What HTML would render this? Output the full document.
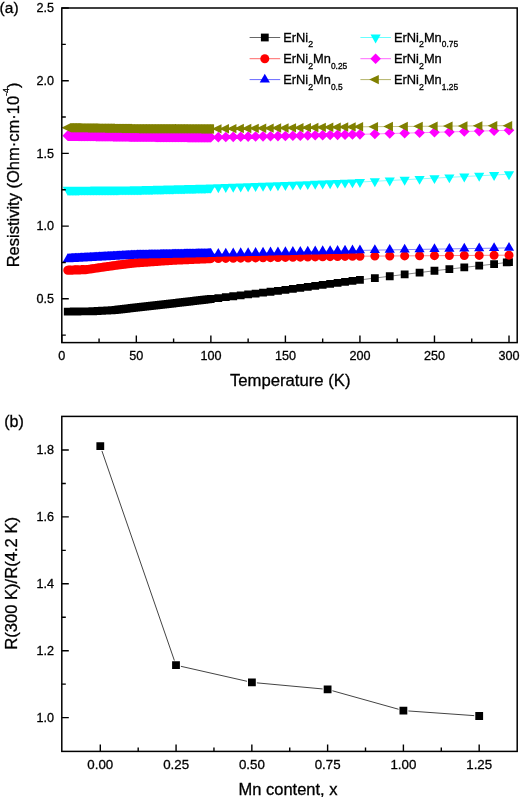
<!DOCTYPE html>
<html><head><meta charset="utf-8"><title>Resistivity figure</title>
<style>html,body{margin:0;padding:0;background:#fff}svg{display:block}</style></head>
<body>
<svg width="520" height="797" viewBox="0 0 520 797" font-family="Liberation Sans, Arial, Helvetica, sans-serif" fill="#000" stroke="none">
<rect width="520" height="797" fill="#fff"/>
<polyline points="210.87,298.95 218.32,298.04 225.78,297.14 233.23,296.24 240.68,295.34 248.14,294.44 255.59,293.54 263.04,292.64 270.50,291.73 277.95,290.83 285.40,289.93 292.86,288.93 300.31,287.92 307.77,286.92 315.22,285.92 322.67,284.91 330.13,283.91 337.58,282.91 345.03,281.90 352.49,280.90 359.94,279.90 374.85,278.07 389.75,276.23 404.66,274.40 419.57,272.57 434.47,270.74 449.38,269.07 464.29,267.39 479.20,265.72 494.10,264.05 506.77,262.44 509.01,262.16" fill="none" stroke="#000000" stroke-width="0.8" opacity="0.6"/>
<path d="M63.86 307.70h7.8v7.8h-7.8zM64.61 307.69h7.8v7.8h-7.8zM65.35 307.68h7.8v7.8h-7.8zM66.10 307.67h7.8v7.8h-7.8zM66.84 307.66h7.8v7.8h-7.8zM67.59 307.65h7.8v7.8h-7.8zM68.33 307.64h7.8v7.8h-7.8zM69.08 307.63h7.8v7.8h-7.8zM69.83 307.62h7.8v7.8h-7.8zM70.57 307.61h7.8v7.8h-7.8zM71.32 307.60h7.8v7.8h-7.8zM72.06 307.60h7.8v7.8h-7.8zM72.81 307.59h7.8v7.8h-7.8zM73.55 307.58h7.8v7.8h-7.8zM74.30 307.57h7.8v7.8h-7.8zM75.04 307.56h7.8v7.8h-7.8zM75.79 307.55h7.8v7.8h-7.8zM76.53 307.54h7.8v7.8h-7.8zM77.28 307.53h7.8v7.8h-7.8zM78.02 307.52h7.8v7.8h-7.8zM78.77 307.51h7.8v7.8h-7.8zM79.52 307.50h7.8v7.8h-7.8zM80.26 307.50h7.8v7.8h-7.8zM81.01 307.49h7.8v7.8h-7.8zM81.75 307.48h7.8v7.8h-7.8zM82.50 307.47h7.8v7.8h-7.8zM83.24 307.46h7.8v7.8h-7.8zM83.99 307.45h7.8v7.8h-7.8zM84.73 307.44h7.8v7.8h-7.8zM85.48 307.43h7.8v7.8h-7.8zM86.22 307.42h7.8v7.8h-7.8zM86.97 307.41h7.8v7.8h-7.8zM87.71 307.40h7.8v7.8h-7.8zM88.46 307.37h7.8v7.8h-7.8zM89.20 307.33h7.8v7.8h-7.8zM89.95 307.29h7.8v7.8h-7.8zM90.70 307.25h7.8v7.8h-7.8zM91.44 307.21h7.8v7.8h-7.8zM92.19 307.17h7.8v7.8h-7.8zM92.93 307.13h7.8v7.8h-7.8zM93.68 307.09h7.8v7.8h-7.8zM94.42 307.06h7.8v7.8h-7.8zM95.17 307.02h7.8v7.8h-7.8zM95.91 306.98h7.8v7.8h-7.8zM96.66 306.94h7.8v7.8h-7.8zM97.40 306.90h7.8v7.8h-7.8zM98.15 306.86h7.8v7.8h-7.8zM98.89 306.82h7.8v7.8h-7.8zM99.64 306.78h7.8v7.8h-7.8zM100.38 306.75h7.8v7.8h-7.8zM101.13 306.71h7.8v7.8h-7.8zM101.88 306.67h7.8v7.8h-7.8zM102.62 306.63h7.8v7.8h-7.8zM103.37 306.59h7.8v7.8h-7.8zM104.11 306.55h7.8v7.8h-7.8zM104.86 306.51h7.8v7.8h-7.8zM105.60 306.47h7.8v7.8h-7.8zM106.35 306.44h7.8v7.8h-7.8zM107.09 306.40h7.8v7.8h-7.8zM107.84 306.36h7.8v7.8h-7.8zM108.58 306.32h7.8v7.8h-7.8zM109.33 306.28h7.8v7.8h-7.8zM110.07 306.24h7.8v7.8h-7.8zM110.82 306.15h7.8v7.8h-7.8zM111.57 306.06h7.8v7.8h-7.8zM112.31 305.98h7.8v7.8h-7.8zM113.06 305.89h7.8v7.8h-7.8zM113.80 305.80h7.8v7.8h-7.8zM114.55 305.71h7.8v7.8h-7.8zM115.29 305.62h7.8v7.8h-7.8zM116.04 305.53h7.8v7.8h-7.8zM116.78 305.45h7.8v7.8h-7.8zM117.53 305.36h7.8v7.8h-7.8zM118.27 305.27h7.8v7.8h-7.8zM119.02 305.18h7.8v7.8h-7.8zM119.76 305.09h7.8v7.8h-7.8zM120.51 305.01h7.8v7.8h-7.8zM121.25 304.92h7.8v7.8h-7.8zM122.00 304.83h7.8v7.8h-7.8zM122.75 304.74h7.8v7.8h-7.8zM123.49 304.65h7.8v7.8h-7.8zM124.24 304.56h7.8v7.8h-7.8zM124.98 304.48h7.8v7.8h-7.8zM125.73 304.39h7.8v7.8h-7.8zM126.47 304.30h7.8v7.8h-7.8zM127.22 304.21h7.8v7.8h-7.8zM127.96 304.12h7.8v7.8h-7.8zM128.71 304.03h7.8v7.8h-7.8zM129.45 303.95h7.8v7.8h-7.8zM130.20 303.86h7.8v7.8h-7.8zM130.94 303.77h7.8v7.8h-7.8zM131.69 303.69h7.8v7.8h-7.8zM132.43 303.60h7.8v7.8h-7.8zM133.18 303.52h7.8v7.8h-7.8zM133.93 303.43h7.8v7.8h-7.8zM134.67 303.35h7.8v7.8h-7.8zM135.42 303.27h7.8v7.8h-7.8zM136.16 303.18h7.8v7.8h-7.8zM136.91 303.10h7.8v7.8h-7.8zM137.65 303.01h7.8v7.8h-7.8zM138.40 302.93h7.8v7.8h-7.8zM139.14 302.85h7.8v7.8h-7.8zM139.89 302.76h7.8v7.8h-7.8zM140.63 302.68h7.8v7.8h-7.8zM141.38 302.60h7.8v7.8h-7.8zM142.12 302.51h7.8v7.8h-7.8zM142.87 302.43h7.8v7.8h-7.8zM143.62 302.34h7.8v7.8h-7.8zM144.36 302.26h7.8v7.8h-7.8zM145.11 302.18h7.8v7.8h-7.8zM145.85 302.09h7.8v7.8h-7.8zM146.60 302.01h7.8v7.8h-7.8zM147.34 301.92h7.8v7.8h-7.8zM148.09 301.84h7.8v7.8h-7.8zM148.83 301.76h7.8v7.8h-7.8zM149.58 301.67h7.8v7.8h-7.8zM150.32 301.59h7.8v7.8h-7.8zM151.07 301.50h7.8v7.8h-7.8zM151.81 301.42h7.8v7.8h-7.8zM152.56 301.34h7.8v7.8h-7.8zM153.30 301.25h7.8v7.8h-7.8zM154.05 301.17h7.8v7.8h-7.8zM154.80 301.09h7.8v7.8h-7.8zM155.54 301.00h7.8v7.8h-7.8zM156.29 300.92h7.8v7.8h-7.8zM157.03 300.83h7.8v7.8h-7.8zM157.78 300.75h7.8v7.8h-7.8zM158.52 300.67h7.8v7.8h-7.8zM159.27 300.58h7.8v7.8h-7.8zM160.01 300.50h7.8v7.8h-7.8zM160.76 300.41h7.8v7.8h-7.8zM161.50 300.33h7.8v7.8h-7.8zM162.25 300.25h7.8v7.8h-7.8zM162.99 300.16h7.8v7.8h-7.8zM163.74 300.08h7.8v7.8h-7.8zM164.49 299.99h7.8v7.8h-7.8zM165.23 299.91h7.8v7.8h-7.8zM165.98 299.83h7.8v7.8h-7.8zM166.72 299.74h7.8v7.8h-7.8zM167.47 299.66h7.8v7.8h-7.8zM168.21 299.58h7.8v7.8h-7.8zM168.96 299.49h7.8v7.8h-7.8zM169.70 299.41h7.8v7.8h-7.8zM170.45 299.32h7.8v7.8h-7.8zM171.19 299.23h7.8v7.8h-7.8zM171.94 299.15h7.8v7.8h-7.8zM172.68 299.06h7.8v7.8h-7.8zM173.43 298.97h7.8v7.8h-7.8zM174.17 298.88h7.8v7.8h-7.8zM174.92 298.80h7.8v7.8h-7.8zM175.67 298.71h7.8v7.8h-7.8zM176.41 298.62h7.8v7.8h-7.8zM177.16 298.54h7.8v7.8h-7.8zM177.90 298.45h7.8v7.8h-7.8zM178.65 298.36h7.8v7.8h-7.8zM179.39 298.27h7.8v7.8h-7.8zM180.14 298.19h7.8v7.8h-7.8zM180.88 298.10h7.8v7.8h-7.8zM181.63 298.01h7.8v7.8h-7.8zM182.37 297.92h7.8v7.8h-7.8zM183.12 297.84h7.8v7.8h-7.8zM183.86 297.75h7.8v7.8h-7.8zM184.61 297.66h7.8v7.8h-7.8zM185.35 297.58h7.8v7.8h-7.8zM186.10 297.49h7.8v7.8h-7.8zM186.85 297.40h7.8v7.8h-7.8zM187.59 297.31h7.8v7.8h-7.8zM188.34 297.23h7.8v7.8h-7.8zM189.08 297.14h7.8v7.8h-7.8zM189.83 297.05h7.8v7.8h-7.8zM190.57 296.96h7.8v7.8h-7.8zM191.32 296.88h7.8v7.8h-7.8zM192.06 296.79h7.8v7.8h-7.8zM192.81 296.70h7.8v7.8h-7.8zM193.55 296.62h7.8v7.8h-7.8zM194.30 296.53h7.8v7.8h-7.8zM195.04 296.44h7.8v7.8h-7.8zM195.79 296.35h7.8v7.8h-7.8zM196.54 296.27h7.8v7.8h-7.8zM197.28 296.18h7.8v7.8h-7.8zM198.03 296.09h7.8v7.8h-7.8zM198.77 296.01h7.8v7.8h-7.8zM199.52 295.92h7.8v7.8h-7.8zM200.26 295.83h7.8v7.8h-7.8zM201.01 295.74h7.8v7.8h-7.8zM201.75 295.66h7.8v7.8h-7.8zM202.50 295.57h7.8v7.8h-7.8zM203.24 295.48h7.8v7.8h-7.8zM203.99 295.39h7.8v7.8h-7.8zM204.73 295.31h7.8v7.8h-7.8zM205.48 295.22h7.8v7.8h-7.8zM206.22 295.13h7.8v7.8h-7.8zM206.97 295.05h7.8v7.8h-7.8zM214.42 294.14h7.8v7.8h-7.8zM221.88 293.24h7.8v7.8h-7.8zM229.33 292.34h7.8v7.8h-7.8zM236.78 291.44h7.8v7.8h-7.8zM244.24 290.54h7.8v7.8h-7.8zM251.69 289.64h7.8v7.8h-7.8zM259.14 288.74h7.8v7.8h-7.8zM266.60 287.83h7.8v7.8h-7.8zM274.05 286.93h7.8v7.8h-7.8zM281.50 286.03h7.8v7.8h-7.8zM288.96 285.03h7.8v7.8h-7.8zM296.41 284.02h7.8v7.8h-7.8zM303.87 283.02h7.8v7.8h-7.8zM311.32 282.02h7.8v7.8h-7.8zM318.77 281.01h7.8v7.8h-7.8zM326.23 280.01h7.8v7.8h-7.8zM333.68 279.01h7.8v7.8h-7.8zM341.13 278.00h7.8v7.8h-7.8zM348.59 277.00h7.8v7.8h-7.8zM356.04 276.00h7.8v7.8h-7.8zM370.95 274.17h7.8v7.8h-7.8zM385.85 272.33h7.8v7.8h-7.8zM400.76 270.50h7.8v7.8h-7.8zM415.67 268.67h7.8v7.8h-7.8zM430.57 266.84h7.8v7.8h-7.8zM445.48 265.17h7.8v7.8h-7.8zM460.39 263.49h7.8v7.8h-7.8zM475.30 261.82h7.8v7.8h-7.8zM490.20 260.15h7.8v7.8h-7.8zM502.87 258.54h7.8v7.8h-7.8zM505.11 258.26h7.8v7.8h-7.8z" fill="#000000"/>
<polyline points="210.87,258.67 218.32,258.55 225.78,258.42 233.23,258.30 240.68,258.18 248.14,258.05 255.59,257.93 263.04,257.80 270.50,257.68 277.95,257.56 285.40,257.43 292.86,257.31 300.31,257.19 307.77,257.06 315.22,256.94 322.67,256.82 330.13,256.69 337.58,256.57 345.03,256.44 352.49,256.32 359.94,256.20 374.85,256.10 389.75,255.99 404.66,255.89 419.57,255.79 434.47,255.69 449.38,255.59 464.29,255.49 479.20,255.38 494.10,255.28 509.01,255.18" fill="none" stroke="#ff0000" stroke-width="0.8" opacity="0.6"/>
<path d="M63.26 270.30a4.5 4.5 0 1 0 9.0 0a4.5 4.5 0 1 0 -9.0 0zM64.01 270.28a4.5 4.5 0 1 0 9.0 0a4.5 4.5 0 1 0 -9.0 0zM64.75 270.25a4.5 4.5 0 1 0 9.0 0a4.5 4.5 0 1 0 -9.0 0zM65.50 270.23a4.5 4.5 0 1 0 9.0 0a4.5 4.5 0 1 0 -9.0 0zM66.24 270.20a4.5 4.5 0 1 0 9.0 0a4.5 4.5 0 1 0 -9.0 0zM66.99 270.18a4.5 4.5 0 1 0 9.0 0a4.5 4.5 0 1 0 -9.0 0zM67.73 270.16a4.5 4.5 0 1 0 9.0 0a4.5 4.5 0 1 0 -9.0 0zM68.48 270.13a4.5 4.5 0 1 0 9.0 0a4.5 4.5 0 1 0 -9.0 0zM69.23 270.11a4.5 4.5 0 1 0 9.0 0a4.5 4.5 0 1 0 -9.0 0zM69.97 270.08a4.5 4.5 0 1 0 9.0 0a4.5 4.5 0 1 0 -9.0 0zM70.72 270.06a4.5 4.5 0 1 0 9.0 0a4.5 4.5 0 1 0 -9.0 0zM71.46 270.04a4.5 4.5 0 1 0 9.0 0a4.5 4.5 0 1 0 -9.0 0zM72.21 270.01a4.5 4.5 0 1 0 9.0 0a4.5 4.5 0 1 0 -9.0 0zM72.95 269.99a4.5 4.5 0 1 0 9.0 0a4.5 4.5 0 1 0 -9.0 0zM73.70 269.96a4.5 4.5 0 1 0 9.0 0a4.5 4.5 0 1 0 -9.0 0zM74.44 269.94a4.5 4.5 0 1 0 9.0 0a4.5 4.5 0 1 0 -9.0 0zM75.19 269.91a4.5 4.5 0 1 0 9.0 0a4.5 4.5 0 1 0 -9.0 0zM75.93 269.89a4.5 4.5 0 1 0 9.0 0a4.5 4.5 0 1 0 -9.0 0zM76.68 269.87a4.5 4.5 0 1 0 9.0 0a4.5 4.5 0 1 0 -9.0 0zM77.42 269.84a4.5 4.5 0 1 0 9.0 0a4.5 4.5 0 1 0 -9.0 0zM78.17 269.82a4.5 4.5 0 1 0 9.0 0a4.5 4.5 0 1 0 -9.0 0zM78.92 269.79a4.5 4.5 0 1 0 9.0 0a4.5 4.5 0 1 0 -9.0 0zM79.66 269.77a4.5 4.5 0 1 0 9.0 0a4.5 4.5 0 1 0 -9.0 0zM80.41 269.74a4.5 4.5 0 1 0 9.0 0a4.5 4.5 0 1 0 -9.0 0zM81.15 269.72a4.5 4.5 0 1 0 9.0 0a4.5 4.5 0 1 0 -9.0 0zM81.90 269.61a4.5 4.5 0 1 0 9.0 0a4.5 4.5 0 1 0 -9.0 0zM82.64 269.50a4.5 4.5 0 1 0 9.0 0a4.5 4.5 0 1 0 -9.0 0zM83.39 269.39a4.5 4.5 0 1 0 9.0 0a4.5 4.5 0 1 0 -9.0 0zM84.13 269.28a4.5 4.5 0 1 0 9.0 0a4.5 4.5 0 1 0 -9.0 0zM84.88 269.17a4.5 4.5 0 1 0 9.0 0a4.5 4.5 0 1 0 -9.0 0zM85.62 269.07a4.5 4.5 0 1 0 9.0 0a4.5 4.5 0 1 0 -9.0 0zM86.37 268.96a4.5 4.5 0 1 0 9.0 0a4.5 4.5 0 1 0 -9.0 0zM87.11 268.85a4.5 4.5 0 1 0 9.0 0a4.5 4.5 0 1 0 -9.0 0zM87.86 268.74a4.5 4.5 0 1 0 9.0 0a4.5 4.5 0 1 0 -9.0 0zM88.60 268.63a4.5 4.5 0 1 0 9.0 0a4.5 4.5 0 1 0 -9.0 0zM89.35 268.52a4.5 4.5 0 1 0 9.0 0a4.5 4.5 0 1 0 -9.0 0zM90.10 268.41a4.5 4.5 0 1 0 9.0 0a4.5 4.5 0 1 0 -9.0 0zM90.84 268.30a4.5 4.5 0 1 0 9.0 0a4.5 4.5 0 1 0 -9.0 0zM91.59 268.19a4.5 4.5 0 1 0 9.0 0a4.5 4.5 0 1 0 -9.0 0zM92.33 268.08a4.5 4.5 0 1 0 9.0 0a4.5 4.5 0 1 0 -9.0 0zM93.08 267.98a4.5 4.5 0 1 0 9.0 0a4.5 4.5 0 1 0 -9.0 0zM93.82 267.87a4.5 4.5 0 1 0 9.0 0a4.5 4.5 0 1 0 -9.0 0zM94.57 267.76a4.5 4.5 0 1 0 9.0 0a4.5 4.5 0 1 0 -9.0 0zM95.31 267.65a4.5 4.5 0 1 0 9.0 0a4.5 4.5 0 1 0 -9.0 0zM96.06 267.54a4.5 4.5 0 1 0 9.0 0a4.5 4.5 0 1 0 -9.0 0zM96.80 267.43a4.5 4.5 0 1 0 9.0 0a4.5 4.5 0 1 0 -9.0 0zM97.55 267.33a4.5 4.5 0 1 0 9.0 0a4.5 4.5 0 1 0 -9.0 0zM98.29 267.22a4.5 4.5 0 1 0 9.0 0a4.5 4.5 0 1 0 -9.0 0zM99.04 267.12a4.5 4.5 0 1 0 9.0 0a4.5 4.5 0 1 0 -9.0 0zM99.78 267.01a4.5 4.5 0 1 0 9.0 0a4.5 4.5 0 1 0 -9.0 0zM100.53 266.90a4.5 4.5 0 1 0 9.0 0a4.5 4.5 0 1 0 -9.0 0zM101.28 266.80a4.5 4.5 0 1 0 9.0 0a4.5 4.5 0 1 0 -9.0 0zM102.02 266.69a4.5 4.5 0 1 0 9.0 0a4.5 4.5 0 1 0 -9.0 0zM102.77 266.59a4.5 4.5 0 1 0 9.0 0a4.5 4.5 0 1 0 -9.0 0zM103.51 266.48a4.5 4.5 0 1 0 9.0 0a4.5 4.5 0 1 0 -9.0 0zM104.26 266.38a4.5 4.5 0 1 0 9.0 0a4.5 4.5 0 1 0 -9.0 0zM105.00 266.27a4.5 4.5 0 1 0 9.0 0a4.5 4.5 0 1 0 -9.0 0zM105.75 266.16a4.5 4.5 0 1 0 9.0 0a4.5 4.5 0 1 0 -9.0 0zM106.49 266.06a4.5 4.5 0 1 0 9.0 0a4.5 4.5 0 1 0 -9.0 0zM107.24 265.95a4.5 4.5 0 1 0 9.0 0a4.5 4.5 0 1 0 -9.0 0zM107.98 265.85a4.5 4.5 0 1 0 9.0 0a4.5 4.5 0 1 0 -9.0 0zM108.73 265.74a4.5 4.5 0 1 0 9.0 0a4.5 4.5 0 1 0 -9.0 0zM109.47 265.64a4.5 4.5 0 1 0 9.0 0a4.5 4.5 0 1 0 -9.0 0zM110.22 265.53a4.5 4.5 0 1 0 9.0 0a4.5 4.5 0 1 0 -9.0 0zM110.97 265.42a4.5 4.5 0 1 0 9.0 0a4.5 4.5 0 1 0 -9.0 0zM111.71 265.32a4.5 4.5 0 1 0 9.0 0a4.5 4.5 0 1 0 -9.0 0zM112.46 265.21a4.5 4.5 0 1 0 9.0 0a4.5 4.5 0 1 0 -9.0 0zM113.20 265.12a4.5 4.5 0 1 0 9.0 0a4.5 4.5 0 1 0 -9.0 0zM113.95 265.03a4.5 4.5 0 1 0 9.0 0a4.5 4.5 0 1 0 -9.0 0zM114.69 264.94a4.5 4.5 0 1 0 9.0 0a4.5 4.5 0 1 0 -9.0 0zM115.44 264.85a4.5 4.5 0 1 0 9.0 0a4.5 4.5 0 1 0 -9.0 0zM116.18 264.76a4.5 4.5 0 1 0 9.0 0a4.5 4.5 0 1 0 -9.0 0zM116.93 264.67a4.5 4.5 0 1 0 9.0 0a4.5 4.5 0 1 0 -9.0 0zM117.67 264.58a4.5 4.5 0 1 0 9.0 0a4.5 4.5 0 1 0 -9.0 0zM118.42 264.49a4.5 4.5 0 1 0 9.0 0a4.5 4.5 0 1 0 -9.0 0zM119.16 264.39a4.5 4.5 0 1 0 9.0 0a4.5 4.5 0 1 0 -9.0 0zM119.91 264.30a4.5 4.5 0 1 0 9.0 0a4.5 4.5 0 1 0 -9.0 0zM120.65 264.21a4.5 4.5 0 1 0 9.0 0a4.5 4.5 0 1 0 -9.0 0zM121.40 264.12a4.5 4.5 0 1 0 9.0 0a4.5 4.5 0 1 0 -9.0 0zM122.15 264.03a4.5 4.5 0 1 0 9.0 0a4.5 4.5 0 1 0 -9.0 0zM122.89 263.94a4.5 4.5 0 1 0 9.0 0a4.5 4.5 0 1 0 -9.0 0zM123.64 263.85a4.5 4.5 0 1 0 9.0 0a4.5 4.5 0 1 0 -9.0 0zM124.38 263.76a4.5 4.5 0 1 0 9.0 0a4.5 4.5 0 1 0 -9.0 0zM125.13 263.67a4.5 4.5 0 1 0 9.0 0a4.5 4.5 0 1 0 -9.0 0zM125.87 263.58a4.5 4.5 0 1 0 9.0 0a4.5 4.5 0 1 0 -9.0 0zM126.62 263.49a4.5 4.5 0 1 0 9.0 0a4.5 4.5 0 1 0 -9.0 0zM127.36 263.40a4.5 4.5 0 1 0 9.0 0a4.5 4.5 0 1 0 -9.0 0zM128.11 263.30a4.5 4.5 0 1 0 9.0 0a4.5 4.5 0 1 0 -9.0 0zM128.85 263.21a4.5 4.5 0 1 0 9.0 0a4.5 4.5 0 1 0 -9.0 0zM129.60 263.12a4.5 4.5 0 1 0 9.0 0a4.5 4.5 0 1 0 -9.0 0zM130.34 263.03a4.5 4.5 0 1 0 9.0 0a4.5 4.5 0 1 0 -9.0 0zM131.09 262.98a4.5 4.5 0 1 0 9.0 0a4.5 4.5 0 1 0 -9.0 0zM131.83 262.93a4.5 4.5 0 1 0 9.0 0a4.5 4.5 0 1 0 -9.0 0zM132.58 262.87a4.5 4.5 0 1 0 9.0 0a4.5 4.5 0 1 0 -9.0 0zM133.33 262.82a4.5 4.5 0 1 0 9.0 0a4.5 4.5 0 1 0 -9.0 0zM134.07 262.77a4.5 4.5 0 1 0 9.0 0a4.5 4.5 0 1 0 -9.0 0zM134.82 262.71a4.5 4.5 0 1 0 9.0 0a4.5 4.5 0 1 0 -9.0 0zM135.56 262.66a4.5 4.5 0 1 0 9.0 0a4.5 4.5 0 1 0 -9.0 0zM136.31 262.61a4.5 4.5 0 1 0 9.0 0a4.5 4.5 0 1 0 -9.0 0zM137.05 262.55a4.5 4.5 0 1 0 9.0 0a4.5 4.5 0 1 0 -9.0 0zM137.80 262.50a4.5 4.5 0 1 0 9.0 0a4.5 4.5 0 1 0 -9.0 0zM138.54 262.45a4.5 4.5 0 1 0 9.0 0a4.5 4.5 0 1 0 -9.0 0zM139.29 262.39a4.5 4.5 0 1 0 9.0 0a4.5 4.5 0 1 0 -9.0 0zM140.03 262.34a4.5 4.5 0 1 0 9.0 0a4.5 4.5 0 1 0 -9.0 0zM140.78 262.29a4.5 4.5 0 1 0 9.0 0a4.5 4.5 0 1 0 -9.0 0zM141.52 262.23a4.5 4.5 0 1 0 9.0 0a4.5 4.5 0 1 0 -9.0 0zM142.27 262.18a4.5 4.5 0 1 0 9.0 0a4.5 4.5 0 1 0 -9.0 0zM143.02 262.13a4.5 4.5 0 1 0 9.0 0a4.5 4.5 0 1 0 -9.0 0zM143.76 262.08a4.5 4.5 0 1 0 9.0 0a4.5 4.5 0 1 0 -9.0 0zM144.51 262.02a4.5 4.5 0 1 0 9.0 0a4.5 4.5 0 1 0 -9.0 0zM145.25 261.97a4.5 4.5 0 1 0 9.0 0a4.5 4.5 0 1 0 -9.0 0zM146.00 261.92a4.5 4.5 0 1 0 9.0 0a4.5 4.5 0 1 0 -9.0 0zM146.74 261.86a4.5 4.5 0 1 0 9.0 0a4.5 4.5 0 1 0 -9.0 0zM147.49 261.81a4.5 4.5 0 1 0 9.0 0a4.5 4.5 0 1 0 -9.0 0zM148.23 261.76a4.5 4.5 0 1 0 9.0 0a4.5 4.5 0 1 0 -9.0 0zM148.98 261.70a4.5 4.5 0 1 0 9.0 0a4.5 4.5 0 1 0 -9.0 0zM149.72 261.65a4.5 4.5 0 1 0 9.0 0a4.5 4.5 0 1 0 -9.0 0zM150.47 261.60a4.5 4.5 0 1 0 9.0 0a4.5 4.5 0 1 0 -9.0 0zM151.21 261.54a4.5 4.5 0 1 0 9.0 0a4.5 4.5 0 1 0 -9.0 0zM151.96 261.49a4.5 4.5 0 1 0 9.0 0a4.5 4.5 0 1 0 -9.0 0zM152.70 261.44a4.5 4.5 0 1 0 9.0 0a4.5 4.5 0 1 0 -9.0 0zM153.45 261.38a4.5 4.5 0 1 0 9.0 0a4.5 4.5 0 1 0 -9.0 0zM154.20 261.33a4.5 4.5 0 1 0 9.0 0a4.5 4.5 0 1 0 -9.0 0zM154.94 261.28a4.5 4.5 0 1 0 9.0 0a4.5 4.5 0 1 0 -9.0 0zM155.69 261.23a4.5 4.5 0 1 0 9.0 0a4.5 4.5 0 1 0 -9.0 0zM156.43 261.17a4.5 4.5 0 1 0 9.0 0a4.5 4.5 0 1 0 -9.0 0zM157.18 261.12a4.5 4.5 0 1 0 9.0 0a4.5 4.5 0 1 0 -9.0 0zM157.92 261.07a4.5 4.5 0 1 0 9.0 0a4.5 4.5 0 1 0 -9.0 0zM158.67 261.01a4.5 4.5 0 1 0 9.0 0a4.5 4.5 0 1 0 -9.0 0zM159.41 260.96a4.5 4.5 0 1 0 9.0 0a4.5 4.5 0 1 0 -9.0 0zM160.16 260.91a4.5 4.5 0 1 0 9.0 0a4.5 4.5 0 1 0 -9.0 0zM160.90 260.85a4.5 4.5 0 1 0 9.0 0a4.5 4.5 0 1 0 -9.0 0zM161.65 260.80a4.5 4.5 0 1 0 9.0 0a4.5 4.5 0 1 0 -9.0 0zM162.39 260.75a4.5 4.5 0 1 0 9.0 0a4.5 4.5 0 1 0 -9.0 0zM163.14 260.69a4.5 4.5 0 1 0 9.0 0a4.5 4.5 0 1 0 -9.0 0zM163.89 260.64a4.5 4.5 0 1 0 9.0 0a4.5 4.5 0 1 0 -9.0 0zM164.63 260.59a4.5 4.5 0 1 0 9.0 0a4.5 4.5 0 1 0 -9.0 0zM165.38 260.53a4.5 4.5 0 1 0 9.0 0a4.5 4.5 0 1 0 -9.0 0zM166.12 260.48a4.5 4.5 0 1 0 9.0 0a4.5 4.5 0 1 0 -9.0 0zM166.87 260.43a4.5 4.5 0 1 0 9.0 0a4.5 4.5 0 1 0 -9.0 0zM167.61 260.38a4.5 4.5 0 1 0 9.0 0a4.5 4.5 0 1 0 -9.0 0zM168.36 260.32a4.5 4.5 0 1 0 9.0 0a4.5 4.5 0 1 0 -9.0 0zM169.10 260.27a4.5 4.5 0 1 0 9.0 0a4.5 4.5 0 1 0 -9.0 0zM169.85 260.24a4.5 4.5 0 1 0 9.0 0a4.5 4.5 0 1 0 -9.0 0zM170.59 260.21a4.5 4.5 0 1 0 9.0 0a4.5 4.5 0 1 0 -9.0 0zM171.34 260.17a4.5 4.5 0 1 0 9.0 0a4.5 4.5 0 1 0 -9.0 0zM172.08 260.14a4.5 4.5 0 1 0 9.0 0a4.5 4.5 0 1 0 -9.0 0zM172.83 260.11a4.5 4.5 0 1 0 9.0 0a4.5 4.5 0 1 0 -9.0 0zM173.57 260.08a4.5 4.5 0 1 0 9.0 0a4.5 4.5 0 1 0 -9.0 0zM174.32 260.05a4.5 4.5 0 1 0 9.0 0a4.5 4.5 0 1 0 -9.0 0zM175.07 260.01a4.5 4.5 0 1 0 9.0 0a4.5 4.5 0 1 0 -9.0 0zM175.81 259.98a4.5 4.5 0 1 0 9.0 0a4.5 4.5 0 1 0 -9.0 0zM176.56 259.95a4.5 4.5 0 1 0 9.0 0a4.5 4.5 0 1 0 -9.0 0zM177.30 259.92a4.5 4.5 0 1 0 9.0 0a4.5 4.5 0 1 0 -9.0 0zM178.05 259.89a4.5 4.5 0 1 0 9.0 0a4.5 4.5 0 1 0 -9.0 0zM178.79 259.85a4.5 4.5 0 1 0 9.0 0a4.5 4.5 0 1 0 -9.0 0zM179.54 259.82a4.5 4.5 0 1 0 9.0 0a4.5 4.5 0 1 0 -9.0 0zM180.28 259.79a4.5 4.5 0 1 0 9.0 0a4.5 4.5 0 1 0 -9.0 0zM181.03 259.76a4.5 4.5 0 1 0 9.0 0a4.5 4.5 0 1 0 -9.0 0zM181.77 259.73a4.5 4.5 0 1 0 9.0 0a4.5 4.5 0 1 0 -9.0 0zM182.52 259.69a4.5 4.5 0 1 0 9.0 0a4.5 4.5 0 1 0 -9.0 0zM183.26 259.66a4.5 4.5 0 1 0 9.0 0a4.5 4.5 0 1 0 -9.0 0zM184.01 259.63a4.5 4.5 0 1 0 9.0 0a4.5 4.5 0 1 0 -9.0 0zM184.75 259.60a4.5 4.5 0 1 0 9.0 0a4.5 4.5 0 1 0 -9.0 0zM185.50 259.57a4.5 4.5 0 1 0 9.0 0a4.5 4.5 0 1 0 -9.0 0zM186.25 259.53a4.5 4.5 0 1 0 9.0 0a4.5 4.5 0 1 0 -9.0 0zM186.99 259.50a4.5 4.5 0 1 0 9.0 0a4.5 4.5 0 1 0 -9.0 0zM187.74 259.47a4.5 4.5 0 1 0 9.0 0a4.5 4.5 0 1 0 -9.0 0zM188.48 259.44a4.5 4.5 0 1 0 9.0 0a4.5 4.5 0 1 0 -9.0 0zM189.23 259.41a4.5 4.5 0 1 0 9.0 0a4.5 4.5 0 1 0 -9.0 0zM189.97 259.37a4.5 4.5 0 1 0 9.0 0a4.5 4.5 0 1 0 -9.0 0zM190.72 259.34a4.5 4.5 0 1 0 9.0 0a4.5 4.5 0 1 0 -9.0 0zM191.46 259.31a4.5 4.5 0 1 0 9.0 0a4.5 4.5 0 1 0 -9.0 0zM192.21 259.28a4.5 4.5 0 1 0 9.0 0a4.5 4.5 0 1 0 -9.0 0zM192.95 259.25a4.5 4.5 0 1 0 9.0 0a4.5 4.5 0 1 0 -9.0 0zM193.70 259.21a4.5 4.5 0 1 0 9.0 0a4.5 4.5 0 1 0 -9.0 0zM194.44 259.18a4.5 4.5 0 1 0 9.0 0a4.5 4.5 0 1 0 -9.0 0zM195.19 259.15a4.5 4.5 0 1 0 9.0 0a4.5 4.5 0 1 0 -9.0 0zM195.94 259.12a4.5 4.5 0 1 0 9.0 0a4.5 4.5 0 1 0 -9.0 0zM196.68 259.09a4.5 4.5 0 1 0 9.0 0a4.5 4.5 0 1 0 -9.0 0zM197.43 259.05a4.5 4.5 0 1 0 9.0 0a4.5 4.5 0 1 0 -9.0 0zM198.17 259.02a4.5 4.5 0 1 0 9.0 0a4.5 4.5 0 1 0 -9.0 0zM198.92 258.99a4.5 4.5 0 1 0 9.0 0a4.5 4.5 0 1 0 -9.0 0zM199.66 258.96a4.5 4.5 0 1 0 9.0 0a4.5 4.5 0 1 0 -9.0 0zM200.41 258.93a4.5 4.5 0 1 0 9.0 0a4.5 4.5 0 1 0 -9.0 0zM201.15 258.89a4.5 4.5 0 1 0 9.0 0a4.5 4.5 0 1 0 -9.0 0zM201.90 258.86a4.5 4.5 0 1 0 9.0 0a4.5 4.5 0 1 0 -9.0 0zM202.64 258.83a4.5 4.5 0 1 0 9.0 0a4.5 4.5 0 1 0 -9.0 0zM203.39 258.80a4.5 4.5 0 1 0 9.0 0a4.5 4.5 0 1 0 -9.0 0zM204.13 258.77a4.5 4.5 0 1 0 9.0 0a4.5 4.5 0 1 0 -9.0 0zM204.88 258.73a4.5 4.5 0 1 0 9.0 0a4.5 4.5 0 1 0 -9.0 0zM205.62 258.70a4.5 4.5 0 1 0 9.0 0a4.5 4.5 0 1 0 -9.0 0zM206.37 258.67a4.5 4.5 0 1 0 9.0 0a4.5 4.5 0 1 0 -9.0 0zM213.82 258.55a4.5 4.5 0 1 0 9.0 0a4.5 4.5 0 1 0 -9.0 0zM221.28 258.42a4.5 4.5 0 1 0 9.0 0a4.5 4.5 0 1 0 -9.0 0zM228.73 258.30a4.5 4.5 0 1 0 9.0 0a4.5 4.5 0 1 0 -9.0 0zM236.18 258.18a4.5 4.5 0 1 0 9.0 0a4.5 4.5 0 1 0 -9.0 0zM243.64 258.05a4.5 4.5 0 1 0 9.0 0a4.5 4.5 0 1 0 -9.0 0zM251.09 257.93a4.5 4.5 0 1 0 9.0 0a4.5 4.5 0 1 0 -9.0 0zM258.54 257.80a4.5 4.5 0 1 0 9.0 0a4.5 4.5 0 1 0 -9.0 0zM266.00 257.68a4.5 4.5 0 1 0 9.0 0a4.5 4.5 0 1 0 -9.0 0zM273.45 257.56a4.5 4.5 0 1 0 9.0 0a4.5 4.5 0 1 0 -9.0 0zM280.90 257.43a4.5 4.5 0 1 0 9.0 0a4.5 4.5 0 1 0 -9.0 0zM288.36 257.31a4.5 4.5 0 1 0 9.0 0a4.5 4.5 0 1 0 -9.0 0zM295.81 257.19a4.5 4.5 0 1 0 9.0 0a4.5 4.5 0 1 0 -9.0 0zM303.27 257.06a4.5 4.5 0 1 0 9.0 0a4.5 4.5 0 1 0 -9.0 0zM310.72 256.94a4.5 4.5 0 1 0 9.0 0a4.5 4.5 0 1 0 -9.0 0zM318.17 256.82a4.5 4.5 0 1 0 9.0 0a4.5 4.5 0 1 0 -9.0 0zM325.63 256.69a4.5 4.5 0 1 0 9.0 0a4.5 4.5 0 1 0 -9.0 0zM333.08 256.57a4.5 4.5 0 1 0 9.0 0a4.5 4.5 0 1 0 -9.0 0zM340.53 256.44a4.5 4.5 0 1 0 9.0 0a4.5 4.5 0 1 0 -9.0 0zM347.99 256.32a4.5 4.5 0 1 0 9.0 0a4.5 4.5 0 1 0 -9.0 0zM355.44 256.20a4.5 4.5 0 1 0 9.0 0a4.5 4.5 0 1 0 -9.0 0zM370.35 256.10a4.5 4.5 0 1 0 9.0 0a4.5 4.5 0 1 0 -9.0 0zM385.25 255.99a4.5 4.5 0 1 0 9.0 0a4.5 4.5 0 1 0 -9.0 0zM400.16 255.89a4.5 4.5 0 1 0 9.0 0a4.5 4.5 0 1 0 -9.0 0zM415.07 255.79a4.5 4.5 0 1 0 9.0 0a4.5 4.5 0 1 0 -9.0 0zM429.97 255.69a4.5 4.5 0 1 0 9.0 0a4.5 4.5 0 1 0 -9.0 0zM444.88 255.59a4.5 4.5 0 1 0 9.0 0a4.5 4.5 0 1 0 -9.0 0zM459.79 255.49a4.5 4.5 0 1 0 9.0 0a4.5 4.5 0 1 0 -9.0 0zM474.70 255.38a4.5 4.5 0 1 0 9.0 0a4.5 4.5 0 1 0 -9.0 0zM489.60 255.28a4.5 4.5 0 1 0 9.0 0a4.5 4.5 0 1 0 -9.0 0zM504.51 255.18a4.5 4.5 0 1 0 9.0 0a4.5 4.5 0 1 0 -9.0 0z" fill="#ff0000"/>
<polyline points="210.87,254.02 218.32,253.84 225.78,253.65 233.23,253.47 240.68,253.29 248.14,253.11 255.59,252.93 263.04,252.74 270.50,252.56 277.95,252.38 285.40,252.20 292.86,252.02 300.31,251.84 307.77,251.65 315.22,251.47 322.67,251.29 330.13,251.11 337.58,250.93 345.03,250.75 352.49,250.56 359.94,250.38 374.85,250.13 389.75,249.89 404.66,249.64 419.57,249.39 434.47,249.15 449.38,248.90 464.29,248.65 479.20,248.40 494.10,248.16 509.01,247.91" fill="none" stroke="#0000ff" stroke-width="0.8" opacity="0.6"/>
<path d="M67.76 253.30l5.1 8.9h-10.2zM68.51 253.26l5.1 8.9h-10.2zM69.25 253.22l5.1 8.9h-10.2zM70.00 253.18l5.1 8.9h-10.2zM70.74 253.14l5.1 8.9h-10.2zM71.49 253.10l5.1 8.9h-10.2zM72.23 253.06l5.1 8.9h-10.2zM72.98 253.02l5.1 8.9h-10.2zM73.73 252.98l5.1 8.9h-10.2zM74.47 252.94l5.1 8.9h-10.2zM75.22 252.90l5.1 8.9h-10.2zM75.96 252.86l5.1 8.9h-10.2zM76.71 252.82l5.1 8.9h-10.2zM77.45 252.78l5.1 8.9h-10.2zM78.20 252.74l5.1 8.9h-10.2zM78.94 252.70l5.1 8.9h-10.2zM79.69 252.65l5.1 8.9h-10.2zM80.43 252.61l5.1 8.9h-10.2zM81.18 252.57l5.1 8.9h-10.2zM81.92 252.53l5.1 8.9h-10.2zM82.67 252.49l5.1 8.9h-10.2zM83.42 252.45l5.1 8.9h-10.2zM84.16 252.41l5.1 8.9h-10.2zM84.91 252.37l5.1 8.9h-10.2zM85.65 252.33l5.1 8.9h-10.2zM86.40 252.29l5.1 8.9h-10.2zM87.14 252.25l5.1 8.9h-10.2zM87.89 252.21l5.1 8.9h-10.2zM88.63 252.17l5.1 8.9h-10.2zM89.38 252.13l5.1 8.9h-10.2zM90.12 252.09l5.1 8.9h-10.2zM90.87 252.05l5.1 8.9h-10.2zM91.61 252.01l5.1 8.9h-10.2zM92.36 251.97l5.1 8.9h-10.2zM93.10 251.93l5.1 8.9h-10.2zM93.85 251.89l5.1 8.9h-10.2zM94.60 251.85l5.1 8.9h-10.2zM95.34 251.81l5.1 8.9h-10.2zM96.09 251.77l5.1 8.9h-10.2zM96.83 251.73l5.1 8.9h-10.2zM97.58 251.69l5.1 8.9h-10.2zM98.32 251.65l5.1 8.9h-10.2zM99.07 251.60l5.1 8.9h-10.2zM99.81 251.56l5.1 8.9h-10.2zM100.56 251.52l5.1 8.9h-10.2zM101.30 251.48l5.1 8.9h-10.2zM102.05 251.44l5.1 8.9h-10.2zM102.79 251.40l5.1 8.9h-10.2zM103.54 251.36l5.1 8.9h-10.2zM104.28 251.32l5.1 8.9h-10.2zM105.03 251.28l5.1 8.9h-10.2zM105.78 251.24l5.1 8.9h-10.2zM106.52 251.20l5.1 8.9h-10.2zM107.27 251.16l5.1 8.9h-10.2zM108.01 251.12l5.1 8.9h-10.2zM108.76 251.08l5.1 8.9h-10.2zM109.50 251.04l5.1 8.9h-10.2zM110.25 251.00l5.1 8.9h-10.2zM110.99 250.96l5.1 8.9h-10.2zM111.74 250.92l5.1 8.9h-10.2zM112.48 250.88l5.1 8.9h-10.2zM113.23 250.84l5.1 8.9h-10.2zM113.97 250.80l5.1 8.9h-10.2zM114.72 250.76l5.1 8.9h-10.2zM115.47 250.72l5.1 8.9h-10.2zM116.21 250.68l5.1 8.9h-10.2zM116.96 250.64l5.1 8.9h-10.2zM117.70 250.60l5.1 8.9h-10.2zM118.45 250.55l5.1 8.9h-10.2zM119.19 250.51l5.1 8.9h-10.2zM119.94 250.47l5.1 8.9h-10.2zM120.68 250.43l5.1 8.9h-10.2zM121.43 250.39l5.1 8.9h-10.2zM122.17 250.35l5.1 8.9h-10.2zM122.92 250.31l5.1 8.9h-10.2zM123.66 250.27l5.1 8.9h-10.2zM124.41 250.23l5.1 8.9h-10.2zM125.15 250.19l5.1 8.9h-10.2zM125.90 250.15l5.1 8.9h-10.2zM126.65 250.11l5.1 8.9h-10.2zM127.39 250.07l5.1 8.9h-10.2zM128.14 250.03l5.1 8.9h-10.2zM128.88 249.99l5.1 8.9h-10.2zM129.63 249.95l5.1 8.9h-10.2zM130.37 249.91l5.1 8.9h-10.2zM131.12 249.87l5.1 8.9h-10.2zM131.86 249.83l5.1 8.9h-10.2zM132.61 249.79l5.1 8.9h-10.2zM133.35 249.75l5.1 8.9h-10.2zM134.10 249.71l5.1 8.9h-10.2zM134.84 249.67l5.1 8.9h-10.2zM135.59 249.65l5.1 8.9h-10.2zM136.33 249.63l5.1 8.9h-10.2zM137.08 249.62l5.1 8.9h-10.2zM137.83 249.60l5.1 8.9h-10.2zM138.57 249.59l5.1 8.9h-10.2zM139.32 249.57l5.1 8.9h-10.2zM140.06 249.56l5.1 8.9h-10.2zM140.81 249.54l5.1 8.9h-10.2zM141.55 249.53l5.1 8.9h-10.2zM142.30 249.51l5.1 8.9h-10.2zM143.04 249.49l5.1 8.9h-10.2zM143.79 249.48l5.1 8.9h-10.2zM144.53 249.46l5.1 8.9h-10.2zM145.28 249.45l5.1 8.9h-10.2zM146.02 249.43l5.1 8.9h-10.2zM146.77 249.42l5.1 8.9h-10.2zM147.52 249.40l5.1 8.9h-10.2zM148.26 249.38l5.1 8.9h-10.2zM149.01 249.37l5.1 8.9h-10.2zM149.75 249.35l5.1 8.9h-10.2zM150.50 249.34l5.1 8.9h-10.2zM151.24 249.32l5.1 8.9h-10.2zM151.99 249.31l5.1 8.9h-10.2zM152.73 249.29l5.1 8.9h-10.2zM153.48 249.27l5.1 8.9h-10.2zM154.22 249.26l5.1 8.9h-10.2zM154.97 249.24l5.1 8.9h-10.2zM155.71 249.23l5.1 8.9h-10.2zM156.46 249.21l5.1 8.9h-10.2zM157.20 249.20l5.1 8.9h-10.2zM157.95 249.18l5.1 8.9h-10.2zM158.70 249.16l5.1 8.9h-10.2zM159.44 249.15l5.1 8.9h-10.2zM160.19 249.13l5.1 8.9h-10.2zM160.93 249.12l5.1 8.9h-10.2zM161.68 249.10l5.1 8.9h-10.2zM162.42 249.09l5.1 8.9h-10.2zM163.17 249.07l5.1 8.9h-10.2zM163.91 249.05l5.1 8.9h-10.2zM164.66 249.04l5.1 8.9h-10.2zM165.40 249.02l5.1 8.9h-10.2zM166.15 249.01l5.1 8.9h-10.2zM166.89 248.99l5.1 8.9h-10.2zM167.64 248.98l5.1 8.9h-10.2zM168.39 248.96l5.1 8.9h-10.2zM169.13 248.94l5.1 8.9h-10.2zM169.88 248.93l5.1 8.9h-10.2zM170.62 248.91l5.1 8.9h-10.2zM171.37 248.90l5.1 8.9h-10.2zM172.11 248.88l5.1 8.9h-10.2zM172.86 248.87l5.1 8.9h-10.2zM173.60 248.85l5.1 8.9h-10.2zM174.35 248.84l5.1 8.9h-10.2zM175.09 248.82l5.1 8.9h-10.2zM175.84 248.80l5.1 8.9h-10.2zM176.58 248.79l5.1 8.9h-10.2zM177.33 248.77l5.1 8.9h-10.2zM178.07 248.76l5.1 8.9h-10.2zM178.82 248.74l5.1 8.9h-10.2zM179.57 248.73l5.1 8.9h-10.2zM180.31 248.71l5.1 8.9h-10.2zM181.06 248.69l5.1 8.9h-10.2zM181.80 248.68l5.1 8.9h-10.2zM182.55 248.66l5.1 8.9h-10.2zM183.29 248.65l5.1 8.9h-10.2zM184.04 248.63l5.1 8.9h-10.2zM184.78 248.62l5.1 8.9h-10.2zM185.53 248.60l5.1 8.9h-10.2zM186.27 248.58l5.1 8.9h-10.2zM187.02 248.57l5.1 8.9h-10.2zM187.76 248.55l5.1 8.9h-10.2zM188.51 248.54l5.1 8.9h-10.2zM189.25 248.52l5.1 8.9h-10.2zM190.00 248.51l5.1 8.9h-10.2zM190.75 248.49l5.1 8.9h-10.2zM191.49 248.47l5.1 8.9h-10.2zM192.24 248.46l5.1 8.9h-10.2zM192.98 248.44l5.1 8.9h-10.2zM193.73 248.43l5.1 8.9h-10.2zM194.47 248.41l5.1 8.9h-10.2zM195.22 248.40l5.1 8.9h-10.2zM195.96 248.38l5.1 8.9h-10.2zM196.71 248.36l5.1 8.9h-10.2zM197.45 248.35l5.1 8.9h-10.2zM198.20 248.33l5.1 8.9h-10.2zM198.94 248.32l5.1 8.9h-10.2zM199.69 248.30l5.1 8.9h-10.2zM200.44 248.29l5.1 8.9h-10.2zM201.18 248.27l5.1 8.9h-10.2zM201.93 248.25l5.1 8.9h-10.2zM202.67 248.24l5.1 8.9h-10.2zM203.42 248.22l5.1 8.9h-10.2zM204.16 248.21l5.1 8.9h-10.2zM204.91 248.19l5.1 8.9h-10.2zM205.65 248.18l5.1 8.9h-10.2zM206.40 248.16l5.1 8.9h-10.2zM207.14 248.15l5.1 8.9h-10.2zM207.89 248.13l5.1 8.9h-10.2zM208.63 248.11l5.1 8.9h-10.2zM209.38 248.10l5.1 8.9h-10.2zM210.12 248.08l5.1 8.9h-10.2zM210.87 248.07l5.1 8.9h-10.2zM218.32 247.89l5.1 8.9h-10.2zM225.78 247.70l5.1 8.9h-10.2zM233.23 247.52l5.1 8.9h-10.2zM240.68 247.34l5.1 8.9h-10.2zM248.14 247.16l5.1 8.9h-10.2zM255.59 246.98l5.1 8.9h-10.2zM263.04 246.79l5.1 8.9h-10.2zM270.50 246.61l5.1 8.9h-10.2zM277.95 246.43l5.1 8.9h-10.2zM285.40 246.25l5.1 8.9h-10.2zM292.86 246.07l5.1 8.9h-10.2zM300.31 245.89l5.1 8.9h-10.2zM307.77 245.70l5.1 8.9h-10.2zM315.22 245.52l5.1 8.9h-10.2zM322.67 245.34l5.1 8.9h-10.2zM330.13 245.16l5.1 8.9h-10.2zM337.58 244.98l5.1 8.9h-10.2zM345.03 244.80l5.1 8.9h-10.2zM352.49 244.61l5.1 8.9h-10.2zM359.94 244.43l5.1 8.9h-10.2zM374.85 244.18l5.1 8.9h-10.2zM389.75 243.94l5.1 8.9h-10.2zM404.66 243.69l5.1 8.9h-10.2zM419.57 243.44l5.1 8.9h-10.2zM434.47 243.20l5.1 8.9h-10.2zM449.38 242.95l5.1 8.9h-10.2zM464.29 242.70l5.1 8.9h-10.2zM479.20 242.45l5.1 8.9h-10.2zM494.10 242.21l5.1 8.9h-10.2zM509.01 241.96l5.1 8.9h-10.2z" fill="#0000ff"/>
<polyline points="210.87,187.57 218.32,187.31 225.78,187.05 233.23,186.78 240.68,186.52 248.14,186.26 255.59,186.00 263.04,185.74 270.50,185.48 277.95,185.21 285.40,184.95 292.86,184.66 300.31,184.37 307.77,184.08 315.22,183.79 322.67,183.50 330.13,183.21 337.58,182.92 345.03,182.63 352.49,182.33 359.94,182.04 374.85,181.26 389.75,180.47 404.66,179.69 419.57,178.90 434.47,178.12 449.38,177.33 464.29,176.55 479.20,175.76 494.10,174.98 509.01,174.19" fill="none" stroke="#00ffff" stroke-width="0.8" opacity="0.6"/>
<path d="M67.76 195.70l5.1 -8.9h-10.2zM68.51 195.70l5.1 -8.9h-10.2zM69.25 195.69l5.1 -8.9h-10.2zM70.00 195.69l5.1 -8.9h-10.2zM70.74 195.68l5.1 -8.9h-10.2zM71.49 195.68l5.1 -8.9h-10.2zM72.23 195.67l5.1 -8.9h-10.2zM72.98 195.67l5.1 -8.9h-10.2zM73.73 195.66l5.1 -8.9h-10.2zM74.47 195.66l5.1 -8.9h-10.2zM75.22 195.65l5.1 -8.9h-10.2zM75.96 195.65l5.1 -8.9h-10.2zM76.71 195.64l5.1 -8.9h-10.2zM77.45 195.64l5.1 -8.9h-10.2zM78.20 195.63l5.1 -8.9h-10.2zM78.94 195.63l5.1 -8.9h-10.2zM79.69 195.62l5.1 -8.9h-10.2zM80.43 195.62l5.1 -8.9h-10.2zM81.18 195.61l5.1 -8.9h-10.2zM81.92 195.61l5.1 -8.9h-10.2zM82.67 195.61l5.1 -8.9h-10.2zM83.42 195.60l5.1 -8.9h-10.2zM84.16 195.60l5.1 -8.9h-10.2zM84.91 195.59l5.1 -8.9h-10.2zM85.65 195.59l5.1 -8.9h-10.2zM86.40 195.58l5.1 -8.9h-10.2zM87.14 195.58l5.1 -8.9h-10.2zM87.89 195.57l5.1 -8.9h-10.2zM88.63 195.57l5.1 -8.9h-10.2zM89.38 195.56l5.1 -8.9h-10.2zM90.12 195.56l5.1 -8.9h-10.2zM90.87 195.55l5.1 -8.9h-10.2zM91.61 195.55l5.1 -8.9h-10.2zM92.36 195.54l5.1 -8.9h-10.2zM93.10 195.54l5.1 -8.9h-10.2zM93.85 195.53l5.1 -8.9h-10.2zM94.60 195.53l5.1 -8.9h-10.2zM95.34 195.52l5.1 -8.9h-10.2zM96.09 195.52l5.1 -8.9h-10.2zM96.83 195.52l5.1 -8.9h-10.2zM97.58 195.51l5.1 -8.9h-10.2zM98.32 195.51l5.1 -8.9h-10.2zM99.07 195.50l5.1 -8.9h-10.2zM99.81 195.50l5.1 -8.9h-10.2zM100.56 195.49l5.1 -8.9h-10.2zM101.30 195.49l5.1 -8.9h-10.2zM102.05 195.48l5.1 -8.9h-10.2zM102.79 195.48l5.1 -8.9h-10.2zM103.54 195.47l5.1 -8.9h-10.2zM104.28 195.47l5.1 -8.9h-10.2zM105.03 195.46l5.1 -8.9h-10.2zM105.78 195.46l5.1 -8.9h-10.2zM106.52 195.45l5.1 -8.9h-10.2zM107.27 195.45l5.1 -8.9h-10.2zM108.01 195.44l5.1 -8.9h-10.2zM108.76 195.44l5.1 -8.9h-10.2zM109.50 195.43l5.1 -8.9h-10.2zM110.25 195.43l5.1 -8.9h-10.2zM110.99 195.43l5.1 -8.9h-10.2zM111.74 195.42l5.1 -8.9h-10.2zM112.48 195.42l5.1 -8.9h-10.2zM113.23 195.41l5.1 -8.9h-10.2zM113.97 195.41l5.1 -8.9h-10.2zM114.72 195.40l5.1 -8.9h-10.2zM115.47 195.40l5.1 -8.9h-10.2zM116.21 195.39l5.1 -8.9h-10.2zM116.96 195.39l5.1 -8.9h-10.2zM117.70 195.38l5.1 -8.9h-10.2zM118.45 195.38l5.1 -8.9h-10.2zM119.19 195.37l5.1 -8.9h-10.2zM119.94 195.37l5.1 -8.9h-10.2zM120.68 195.36l5.1 -8.9h-10.2zM121.43 195.36l5.1 -8.9h-10.2zM122.17 195.35l5.1 -8.9h-10.2zM122.92 195.35l5.1 -8.9h-10.2zM123.66 195.34l5.1 -8.9h-10.2zM124.41 195.34l5.1 -8.9h-10.2zM125.15 195.33l5.1 -8.9h-10.2zM125.90 195.33l5.1 -8.9h-10.2zM126.65 195.33l5.1 -8.9h-10.2zM127.39 195.32l5.1 -8.9h-10.2zM128.14 195.32l5.1 -8.9h-10.2zM128.88 195.31l5.1 -8.9h-10.2zM129.63 195.31l5.1 -8.9h-10.2zM130.37 195.30l5.1 -8.9h-10.2zM131.12 195.30l5.1 -8.9h-10.2zM131.86 195.29l5.1 -8.9h-10.2zM132.61 195.29l5.1 -8.9h-10.2zM133.35 195.28l5.1 -8.9h-10.2zM134.10 195.28l5.1 -8.9h-10.2zM134.84 195.27l5.1 -8.9h-10.2zM135.59 195.27l5.1 -8.9h-10.2zM136.33 195.26l5.1 -8.9h-10.2zM137.08 195.25l5.1 -8.9h-10.2zM137.83 195.23l5.1 -8.9h-10.2zM138.57 195.21l5.1 -8.9h-10.2zM139.32 195.19l5.1 -8.9h-10.2zM140.06 195.18l5.1 -8.9h-10.2zM140.81 195.16l5.1 -8.9h-10.2zM141.55 195.14l5.1 -8.9h-10.2zM142.30 195.12l5.1 -8.9h-10.2zM143.04 195.11l5.1 -8.9h-10.2zM143.79 195.09l5.1 -8.9h-10.2zM144.53 195.07l5.1 -8.9h-10.2zM145.28 195.05l5.1 -8.9h-10.2zM146.02 195.04l5.1 -8.9h-10.2zM146.77 195.02l5.1 -8.9h-10.2zM147.52 195.00l5.1 -8.9h-10.2zM148.26 194.98l5.1 -8.9h-10.2zM149.01 194.97l5.1 -8.9h-10.2zM149.75 194.95l5.1 -8.9h-10.2zM150.50 194.93l5.1 -8.9h-10.2zM151.24 194.91l5.1 -8.9h-10.2zM151.99 194.90l5.1 -8.9h-10.2zM152.73 194.88l5.1 -8.9h-10.2zM153.48 194.86l5.1 -8.9h-10.2zM154.22 194.85l5.1 -8.9h-10.2zM154.97 194.83l5.1 -8.9h-10.2zM155.71 194.81l5.1 -8.9h-10.2zM156.46 194.79l5.1 -8.9h-10.2zM157.20 194.78l5.1 -8.9h-10.2zM157.95 194.76l5.1 -8.9h-10.2zM158.70 194.74l5.1 -8.9h-10.2zM159.44 194.72l5.1 -8.9h-10.2zM160.19 194.71l5.1 -8.9h-10.2zM160.93 194.69l5.1 -8.9h-10.2zM161.68 194.67l5.1 -8.9h-10.2zM162.42 194.65l5.1 -8.9h-10.2zM163.17 194.64l5.1 -8.9h-10.2zM163.91 194.62l5.1 -8.9h-10.2zM164.66 194.60l5.1 -8.9h-10.2zM165.40 194.58l5.1 -8.9h-10.2zM166.15 194.57l5.1 -8.9h-10.2zM166.89 194.55l5.1 -8.9h-10.2zM167.64 194.53l5.1 -8.9h-10.2zM168.39 194.51l5.1 -8.9h-10.2zM169.13 194.50l5.1 -8.9h-10.2zM169.88 194.48l5.1 -8.9h-10.2zM170.62 194.46l5.1 -8.9h-10.2zM171.37 194.44l5.1 -8.9h-10.2zM172.11 194.43l5.1 -8.9h-10.2zM172.86 194.41l5.1 -8.9h-10.2zM173.60 194.39l5.1 -8.9h-10.2zM174.35 194.37l5.1 -8.9h-10.2zM175.09 194.36l5.1 -8.9h-10.2zM175.84 194.34l5.1 -8.9h-10.2zM176.58 194.32l5.1 -8.9h-10.2zM177.33 194.30l5.1 -8.9h-10.2zM178.07 194.29l5.1 -8.9h-10.2zM178.82 194.27l5.1 -8.9h-10.2zM179.57 194.25l5.1 -8.9h-10.2zM180.31 194.23l5.1 -8.9h-10.2zM181.06 194.22l5.1 -8.9h-10.2zM181.80 194.20l5.1 -8.9h-10.2zM182.55 194.18l5.1 -8.9h-10.2zM183.29 194.16l5.1 -8.9h-10.2zM184.04 194.15l5.1 -8.9h-10.2zM184.78 194.13l5.1 -8.9h-10.2zM185.53 194.11l5.1 -8.9h-10.2zM186.27 194.09l5.1 -8.9h-10.2zM187.02 194.08l5.1 -8.9h-10.2zM187.76 194.06l5.1 -8.9h-10.2zM188.51 194.04l5.1 -8.9h-10.2zM189.25 194.02l5.1 -8.9h-10.2zM190.00 194.01l5.1 -8.9h-10.2zM190.75 193.99l5.1 -8.9h-10.2zM191.49 193.97l5.1 -8.9h-10.2zM192.24 193.96l5.1 -8.9h-10.2zM192.98 193.94l5.1 -8.9h-10.2zM193.73 193.92l5.1 -8.9h-10.2zM194.47 193.90l5.1 -8.9h-10.2zM195.22 193.89l5.1 -8.9h-10.2zM195.96 193.87l5.1 -8.9h-10.2zM196.71 193.85l5.1 -8.9h-10.2zM197.45 193.83l5.1 -8.9h-10.2zM198.20 193.82l5.1 -8.9h-10.2zM198.94 193.80l5.1 -8.9h-10.2zM199.69 193.78l5.1 -8.9h-10.2zM200.44 193.76l5.1 -8.9h-10.2zM201.18 193.75l5.1 -8.9h-10.2zM201.93 193.73l5.1 -8.9h-10.2zM202.67 193.71l5.1 -8.9h-10.2zM203.42 193.69l5.1 -8.9h-10.2zM204.16 193.68l5.1 -8.9h-10.2zM204.91 193.66l5.1 -8.9h-10.2zM205.65 193.64l5.1 -8.9h-10.2zM206.40 193.62l5.1 -8.9h-10.2zM207.14 193.61l5.1 -8.9h-10.2zM207.89 193.59l5.1 -8.9h-10.2zM208.63 193.57l5.1 -8.9h-10.2zM209.38 193.55l5.1 -8.9h-10.2zM210.12 193.54l5.1 -8.9h-10.2zM210.87 193.52l5.1 -8.9h-10.2zM218.32 193.26l5.1 -8.9h-10.2zM225.78 193.00l5.1 -8.9h-10.2zM233.23 192.73l5.1 -8.9h-10.2zM240.68 192.47l5.1 -8.9h-10.2zM248.14 192.21l5.1 -8.9h-10.2zM255.59 191.95l5.1 -8.9h-10.2zM263.04 191.69l5.1 -8.9h-10.2zM270.50 191.43l5.1 -8.9h-10.2zM277.95 191.16l5.1 -8.9h-10.2zM285.40 190.90l5.1 -8.9h-10.2zM292.86 190.61l5.1 -8.9h-10.2zM300.31 190.32l5.1 -8.9h-10.2zM307.77 190.03l5.1 -8.9h-10.2zM315.22 189.74l5.1 -8.9h-10.2zM322.67 189.45l5.1 -8.9h-10.2zM330.13 189.16l5.1 -8.9h-10.2zM337.58 188.87l5.1 -8.9h-10.2zM345.03 188.58l5.1 -8.9h-10.2zM352.49 188.28l5.1 -8.9h-10.2zM359.94 187.99l5.1 -8.9h-10.2zM374.85 187.21l5.1 -8.9h-10.2zM389.75 186.42l5.1 -8.9h-10.2zM404.66 185.64l5.1 -8.9h-10.2zM419.57 184.85l5.1 -8.9h-10.2zM434.47 184.07l5.1 -8.9h-10.2zM449.38 183.28l5.1 -8.9h-10.2zM464.29 182.50l5.1 -8.9h-10.2zM479.20 181.71l5.1 -8.9h-10.2zM494.10 180.93l5.1 -8.9h-10.2zM509.01 180.14l5.1 -8.9h-10.2z" fill="#00ffff"/>
<polyline points="210.87,137.26 218.32,137.13 225.78,137.00 233.23,136.87 240.68,136.74 248.14,136.61 255.59,136.48 263.04,136.34 270.50,136.21 277.95,136.08 285.40,135.95 292.86,135.79 300.31,135.63 307.77,135.47 315.22,135.31 322.67,135.15 330.13,134.99 337.58,134.83 345.03,134.67 352.49,134.51 359.94,134.35 374.85,133.95 389.75,133.54 404.66,133.13 419.57,132.72 434.47,132.32 449.38,131.91 464.29,131.50 479.20,131.10 494.10,130.69 509.01,130.28" fill="none" stroke="#ff00ff" stroke-width="0.8" opacity="0.6"/>
<path d="M67.76 130.36l5.3 5.3l-5.3 5.3l-5.3 -5.3zM68.51 130.37l5.3 5.3l-5.3 5.3l-5.3 -5.3zM69.25 130.38l5.3 5.3l-5.3 5.3l-5.3 -5.3zM70.00 130.39l5.3 5.3l-5.3 5.3l-5.3 -5.3zM70.74 130.41l5.3 5.3l-5.3 5.3l-5.3 -5.3zM71.49 130.42l5.3 5.3l-5.3 5.3l-5.3 -5.3zM72.23 130.43l5.3 5.3l-5.3 5.3l-5.3 -5.3zM72.98 130.44l5.3 5.3l-5.3 5.3l-5.3 -5.3zM73.73 130.45l5.3 5.3l-5.3 5.3l-5.3 -5.3zM74.47 130.46l5.3 5.3l-5.3 5.3l-5.3 -5.3zM75.22 130.47l5.3 5.3l-5.3 5.3l-5.3 -5.3zM75.96 130.48l5.3 5.3l-5.3 5.3l-5.3 -5.3zM76.71 130.49l5.3 5.3l-5.3 5.3l-5.3 -5.3zM77.45 130.51l5.3 5.3l-5.3 5.3l-5.3 -5.3zM78.20 130.52l5.3 5.3l-5.3 5.3l-5.3 -5.3zM78.94 130.53l5.3 5.3l-5.3 5.3l-5.3 -5.3zM79.69 130.54l5.3 5.3l-5.3 5.3l-5.3 -5.3zM80.43 130.55l5.3 5.3l-5.3 5.3l-5.3 -5.3zM81.18 130.56l5.3 5.3l-5.3 5.3l-5.3 -5.3zM81.92 130.57l5.3 5.3l-5.3 5.3l-5.3 -5.3zM82.67 130.58l5.3 5.3l-5.3 5.3l-5.3 -5.3zM83.42 130.59l5.3 5.3l-5.3 5.3l-5.3 -5.3zM84.16 130.60l5.3 5.3l-5.3 5.3l-5.3 -5.3zM84.91 130.62l5.3 5.3l-5.3 5.3l-5.3 -5.3zM85.65 130.63l5.3 5.3l-5.3 5.3l-5.3 -5.3zM86.40 130.64l5.3 5.3l-5.3 5.3l-5.3 -5.3zM87.14 130.65l5.3 5.3l-5.3 5.3l-5.3 -5.3zM87.89 130.66l5.3 5.3l-5.3 5.3l-5.3 -5.3zM88.63 130.67l5.3 5.3l-5.3 5.3l-5.3 -5.3zM89.38 130.68l5.3 5.3l-5.3 5.3l-5.3 -5.3zM90.12 130.69l5.3 5.3l-5.3 5.3l-5.3 -5.3zM90.87 130.70l5.3 5.3l-5.3 5.3l-5.3 -5.3zM91.61 130.72l5.3 5.3l-5.3 5.3l-5.3 -5.3zM92.36 130.73l5.3 5.3l-5.3 5.3l-5.3 -5.3zM93.10 130.74l5.3 5.3l-5.3 5.3l-5.3 -5.3zM93.85 130.75l5.3 5.3l-5.3 5.3l-5.3 -5.3zM94.60 130.76l5.3 5.3l-5.3 5.3l-5.3 -5.3zM95.34 130.77l5.3 5.3l-5.3 5.3l-5.3 -5.3zM96.09 130.78l5.3 5.3l-5.3 5.3l-5.3 -5.3zM96.83 130.79l5.3 5.3l-5.3 5.3l-5.3 -5.3zM97.58 130.80l5.3 5.3l-5.3 5.3l-5.3 -5.3zM98.32 130.81l5.3 5.3l-5.3 5.3l-5.3 -5.3zM99.07 130.83l5.3 5.3l-5.3 5.3l-5.3 -5.3zM99.81 130.84l5.3 5.3l-5.3 5.3l-5.3 -5.3zM100.56 130.85l5.3 5.3l-5.3 5.3l-5.3 -5.3zM101.30 130.86l5.3 5.3l-5.3 5.3l-5.3 -5.3zM102.05 130.87l5.3 5.3l-5.3 5.3l-5.3 -5.3zM102.79 130.88l5.3 5.3l-5.3 5.3l-5.3 -5.3zM103.54 130.89l5.3 5.3l-5.3 5.3l-5.3 -5.3zM104.28 130.90l5.3 5.3l-5.3 5.3l-5.3 -5.3zM105.03 130.91l5.3 5.3l-5.3 5.3l-5.3 -5.3zM105.78 130.93l5.3 5.3l-5.3 5.3l-5.3 -5.3zM106.52 130.94l5.3 5.3l-5.3 5.3l-5.3 -5.3zM107.27 130.95l5.3 5.3l-5.3 5.3l-5.3 -5.3zM108.01 130.96l5.3 5.3l-5.3 5.3l-5.3 -5.3zM108.76 130.97l5.3 5.3l-5.3 5.3l-5.3 -5.3zM109.50 130.98l5.3 5.3l-5.3 5.3l-5.3 -5.3zM110.25 130.99l5.3 5.3l-5.3 5.3l-5.3 -5.3zM110.99 131.00l5.3 5.3l-5.3 5.3l-5.3 -5.3zM111.74 131.01l5.3 5.3l-5.3 5.3l-5.3 -5.3zM112.48 131.02l5.3 5.3l-5.3 5.3l-5.3 -5.3zM113.23 131.04l5.3 5.3l-5.3 5.3l-5.3 -5.3zM113.97 131.05l5.3 5.3l-5.3 5.3l-5.3 -5.3zM114.72 131.06l5.3 5.3l-5.3 5.3l-5.3 -5.3zM115.47 131.07l5.3 5.3l-5.3 5.3l-5.3 -5.3zM116.21 131.08l5.3 5.3l-5.3 5.3l-5.3 -5.3zM116.96 131.09l5.3 5.3l-5.3 5.3l-5.3 -5.3zM117.70 131.10l5.3 5.3l-5.3 5.3l-5.3 -5.3zM118.45 131.11l5.3 5.3l-5.3 5.3l-5.3 -5.3zM119.19 131.12l5.3 5.3l-5.3 5.3l-5.3 -5.3zM119.94 131.14l5.3 5.3l-5.3 5.3l-5.3 -5.3zM120.68 131.15l5.3 5.3l-5.3 5.3l-5.3 -5.3zM121.43 131.16l5.3 5.3l-5.3 5.3l-5.3 -5.3zM122.17 131.17l5.3 5.3l-5.3 5.3l-5.3 -5.3zM122.92 131.18l5.3 5.3l-5.3 5.3l-5.3 -5.3zM123.66 131.19l5.3 5.3l-5.3 5.3l-5.3 -5.3zM124.41 131.20l5.3 5.3l-5.3 5.3l-5.3 -5.3zM125.15 131.21l5.3 5.3l-5.3 5.3l-5.3 -5.3zM125.90 131.22l5.3 5.3l-5.3 5.3l-5.3 -5.3zM126.65 131.24l5.3 5.3l-5.3 5.3l-5.3 -5.3zM127.39 131.25l5.3 5.3l-5.3 5.3l-5.3 -5.3zM128.14 131.26l5.3 5.3l-5.3 5.3l-5.3 -5.3zM128.88 131.27l5.3 5.3l-5.3 5.3l-5.3 -5.3zM129.63 131.28l5.3 5.3l-5.3 5.3l-5.3 -5.3zM130.37 131.29l5.3 5.3l-5.3 5.3l-5.3 -5.3zM131.12 131.30l5.3 5.3l-5.3 5.3l-5.3 -5.3zM131.86 131.31l5.3 5.3l-5.3 5.3l-5.3 -5.3zM132.61 131.32l5.3 5.3l-5.3 5.3l-5.3 -5.3zM133.35 131.33l5.3 5.3l-5.3 5.3l-5.3 -5.3zM134.10 131.35l5.3 5.3l-5.3 5.3l-5.3 -5.3zM134.84 131.36l5.3 5.3l-5.3 5.3l-5.3 -5.3zM135.59 131.37l5.3 5.3l-5.3 5.3l-5.3 -5.3zM136.33 131.38l5.3 5.3l-5.3 5.3l-5.3 -5.3zM137.08 131.38l5.3 5.3l-5.3 5.3l-5.3 -5.3zM137.83 131.39l5.3 5.3l-5.3 5.3l-5.3 -5.3zM138.57 131.40l5.3 5.3l-5.3 5.3l-5.3 -5.3zM139.32 131.40l5.3 5.3l-5.3 5.3l-5.3 -5.3zM140.06 131.41l5.3 5.3l-5.3 5.3l-5.3 -5.3zM140.81 131.41l5.3 5.3l-5.3 5.3l-5.3 -5.3zM141.55 131.42l5.3 5.3l-5.3 5.3l-5.3 -5.3zM142.30 131.43l5.3 5.3l-5.3 5.3l-5.3 -5.3zM143.04 131.43l5.3 5.3l-5.3 5.3l-5.3 -5.3zM143.79 131.44l5.3 5.3l-5.3 5.3l-5.3 -5.3zM144.53 131.44l5.3 5.3l-5.3 5.3l-5.3 -5.3zM145.28 131.45l5.3 5.3l-5.3 5.3l-5.3 -5.3zM146.02 131.45l5.3 5.3l-5.3 5.3l-5.3 -5.3zM146.77 131.46l5.3 5.3l-5.3 5.3l-5.3 -5.3zM147.52 131.47l5.3 5.3l-5.3 5.3l-5.3 -5.3zM148.26 131.47l5.3 5.3l-5.3 5.3l-5.3 -5.3zM149.01 131.48l5.3 5.3l-5.3 5.3l-5.3 -5.3zM149.75 131.48l5.3 5.3l-5.3 5.3l-5.3 -5.3zM150.50 131.49l5.3 5.3l-5.3 5.3l-5.3 -5.3zM151.24 131.50l5.3 5.3l-5.3 5.3l-5.3 -5.3zM151.99 131.50l5.3 5.3l-5.3 5.3l-5.3 -5.3zM152.73 131.51l5.3 5.3l-5.3 5.3l-5.3 -5.3zM153.48 131.51l5.3 5.3l-5.3 5.3l-5.3 -5.3zM154.22 131.52l5.3 5.3l-5.3 5.3l-5.3 -5.3zM154.97 131.52l5.3 5.3l-5.3 5.3l-5.3 -5.3zM155.71 131.53l5.3 5.3l-5.3 5.3l-5.3 -5.3zM156.46 131.54l5.3 5.3l-5.3 5.3l-5.3 -5.3zM157.20 131.54l5.3 5.3l-5.3 5.3l-5.3 -5.3zM157.95 131.55l5.3 5.3l-5.3 5.3l-5.3 -5.3zM158.70 131.55l5.3 5.3l-5.3 5.3l-5.3 -5.3zM159.44 131.56l5.3 5.3l-5.3 5.3l-5.3 -5.3zM160.19 131.57l5.3 5.3l-5.3 5.3l-5.3 -5.3zM160.93 131.57l5.3 5.3l-5.3 5.3l-5.3 -5.3zM161.68 131.58l5.3 5.3l-5.3 5.3l-5.3 -5.3zM162.42 131.58l5.3 5.3l-5.3 5.3l-5.3 -5.3zM163.17 131.59l5.3 5.3l-5.3 5.3l-5.3 -5.3zM163.91 131.59l5.3 5.3l-5.3 5.3l-5.3 -5.3zM164.66 131.60l5.3 5.3l-5.3 5.3l-5.3 -5.3zM165.40 131.61l5.3 5.3l-5.3 5.3l-5.3 -5.3zM166.15 131.61l5.3 5.3l-5.3 5.3l-5.3 -5.3zM166.89 131.62l5.3 5.3l-5.3 5.3l-5.3 -5.3zM167.64 131.62l5.3 5.3l-5.3 5.3l-5.3 -5.3zM168.39 131.63l5.3 5.3l-5.3 5.3l-5.3 -5.3zM169.13 131.63l5.3 5.3l-5.3 5.3l-5.3 -5.3zM169.88 131.64l5.3 5.3l-5.3 5.3l-5.3 -5.3zM170.62 131.65l5.3 5.3l-5.3 5.3l-5.3 -5.3zM171.37 131.65l5.3 5.3l-5.3 5.3l-5.3 -5.3zM172.11 131.66l5.3 5.3l-5.3 5.3l-5.3 -5.3zM172.86 131.66l5.3 5.3l-5.3 5.3l-5.3 -5.3zM173.60 131.67l5.3 5.3l-5.3 5.3l-5.3 -5.3zM174.35 131.68l5.3 5.3l-5.3 5.3l-5.3 -5.3zM175.09 131.68l5.3 5.3l-5.3 5.3l-5.3 -5.3zM175.84 131.69l5.3 5.3l-5.3 5.3l-5.3 -5.3zM176.58 131.69l5.3 5.3l-5.3 5.3l-5.3 -5.3zM177.33 131.70l5.3 5.3l-5.3 5.3l-5.3 -5.3zM178.07 131.70l5.3 5.3l-5.3 5.3l-5.3 -5.3zM178.82 131.71l5.3 5.3l-5.3 5.3l-5.3 -5.3zM179.57 131.72l5.3 5.3l-5.3 5.3l-5.3 -5.3zM180.31 131.72l5.3 5.3l-5.3 5.3l-5.3 -5.3zM181.06 131.73l5.3 5.3l-5.3 5.3l-5.3 -5.3zM181.80 131.73l5.3 5.3l-5.3 5.3l-5.3 -5.3zM182.55 131.74l5.3 5.3l-5.3 5.3l-5.3 -5.3zM183.29 131.75l5.3 5.3l-5.3 5.3l-5.3 -5.3zM184.04 131.75l5.3 5.3l-5.3 5.3l-5.3 -5.3zM184.78 131.76l5.3 5.3l-5.3 5.3l-5.3 -5.3zM185.53 131.76l5.3 5.3l-5.3 5.3l-5.3 -5.3zM186.27 131.77l5.3 5.3l-5.3 5.3l-5.3 -5.3zM187.02 131.77l5.3 5.3l-5.3 5.3l-5.3 -5.3zM187.76 131.78l5.3 5.3l-5.3 5.3l-5.3 -5.3zM188.51 131.79l5.3 5.3l-5.3 5.3l-5.3 -5.3zM189.25 131.79l5.3 5.3l-5.3 5.3l-5.3 -5.3zM190.00 131.80l5.3 5.3l-5.3 5.3l-5.3 -5.3zM190.75 131.80l5.3 5.3l-5.3 5.3l-5.3 -5.3zM191.49 131.81l5.3 5.3l-5.3 5.3l-5.3 -5.3zM192.24 131.82l5.3 5.3l-5.3 5.3l-5.3 -5.3zM192.98 131.82l5.3 5.3l-5.3 5.3l-5.3 -5.3zM193.73 131.83l5.3 5.3l-5.3 5.3l-5.3 -5.3zM194.47 131.83l5.3 5.3l-5.3 5.3l-5.3 -5.3zM195.22 131.84l5.3 5.3l-5.3 5.3l-5.3 -5.3zM195.96 131.84l5.3 5.3l-5.3 5.3l-5.3 -5.3zM196.71 131.85l5.3 5.3l-5.3 5.3l-5.3 -5.3zM197.45 131.86l5.3 5.3l-5.3 5.3l-5.3 -5.3zM198.20 131.86l5.3 5.3l-5.3 5.3l-5.3 -5.3zM198.94 131.87l5.3 5.3l-5.3 5.3l-5.3 -5.3zM199.69 131.87l5.3 5.3l-5.3 5.3l-5.3 -5.3zM200.44 131.88l5.3 5.3l-5.3 5.3l-5.3 -5.3zM201.18 131.88l5.3 5.3l-5.3 5.3l-5.3 -5.3zM201.93 131.89l5.3 5.3l-5.3 5.3l-5.3 -5.3zM202.67 131.90l5.3 5.3l-5.3 5.3l-5.3 -5.3zM203.42 131.90l5.3 5.3l-5.3 5.3l-5.3 -5.3zM204.16 131.91l5.3 5.3l-5.3 5.3l-5.3 -5.3zM204.91 131.91l5.3 5.3l-5.3 5.3l-5.3 -5.3zM205.65 131.92l5.3 5.3l-5.3 5.3l-5.3 -5.3zM206.40 131.93l5.3 5.3l-5.3 5.3l-5.3 -5.3zM207.14 131.93l5.3 5.3l-5.3 5.3l-5.3 -5.3zM207.89 131.94l5.3 5.3l-5.3 5.3l-5.3 -5.3zM208.63 131.94l5.3 5.3l-5.3 5.3l-5.3 -5.3zM209.38 131.95l5.3 5.3l-5.3 5.3l-5.3 -5.3zM210.12 131.95l5.3 5.3l-5.3 5.3l-5.3 -5.3zM210.87 131.96l5.3 5.3l-5.3 5.3l-5.3 -5.3zM218.32 131.83l5.3 5.3l-5.3 5.3l-5.3 -5.3zM225.78 131.70l5.3 5.3l-5.3 5.3l-5.3 -5.3zM233.23 131.57l5.3 5.3l-5.3 5.3l-5.3 -5.3zM240.68 131.44l5.3 5.3l-5.3 5.3l-5.3 -5.3zM248.14 131.31l5.3 5.3l-5.3 5.3l-5.3 -5.3zM255.59 131.18l5.3 5.3l-5.3 5.3l-5.3 -5.3zM263.04 131.04l5.3 5.3l-5.3 5.3l-5.3 -5.3zM270.50 130.91l5.3 5.3l-5.3 5.3l-5.3 -5.3zM277.95 130.78l5.3 5.3l-5.3 5.3l-5.3 -5.3zM285.40 130.65l5.3 5.3l-5.3 5.3l-5.3 -5.3zM292.86 130.49l5.3 5.3l-5.3 5.3l-5.3 -5.3zM300.31 130.33l5.3 5.3l-5.3 5.3l-5.3 -5.3zM307.77 130.17l5.3 5.3l-5.3 5.3l-5.3 -5.3zM315.22 130.01l5.3 5.3l-5.3 5.3l-5.3 -5.3zM322.67 129.85l5.3 5.3l-5.3 5.3l-5.3 -5.3zM330.13 129.69l5.3 5.3l-5.3 5.3l-5.3 -5.3zM337.58 129.53l5.3 5.3l-5.3 5.3l-5.3 -5.3zM345.03 129.37l5.3 5.3l-5.3 5.3l-5.3 -5.3zM352.49 129.21l5.3 5.3l-5.3 5.3l-5.3 -5.3zM359.94 129.05l5.3 5.3l-5.3 5.3l-5.3 -5.3zM374.85 128.65l5.3 5.3l-5.3 5.3l-5.3 -5.3zM389.75 128.24l5.3 5.3l-5.3 5.3l-5.3 -5.3zM404.66 127.83l5.3 5.3l-5.3 5.3l-5.3 -5.3zM419.57 127.42l5.3 5.3l-5.3 5.3l-5.3 -5.3zM434.47 127.02l5.3 5.3l-5.3 5.3l-5.3 -5.3zM449.38 126.61l5.3 5.3l-5.3 5.3l-5.3 -5.3zM464.29 126.20l5.3 5.3l-5.3 5.3l-5.3 -5.3zM479.20 125.80l5.3 5.3l-5.3 5.3l-5.3 -5.3zM494.10 125.39l5.3 5.3l-5.3 5.3l-5.3 -5.3zM509.01 124.98l5.3 5.3l-5.3 5.3l-5.3 -5.3z" fill="#ff00ff"/>
<polyline points="210.87,128.97 218.32,128.87 225.78,128.77 233.23,128.67 240.68,128.57 248.14,128.46 255.59,128.36 263.04,128.26 270.50,128.16 277.95,128.06 285.40,127.95 292.86,127.84 300.31,127.72 307.77,127.61 315.22,127.49 322.67,127.37 330.13,127.26 337.58,127.14 345.03,127.02 352.49,126.91 359.94,126.79 374.85,126.68 389.75,126.56 404.66,126.44 419.57,126.33 434.47,126.21 449.38,126.09 464.29,125.98 479.20,125.86 494.10,125.74 509.01,125.63" fill="none" stroke="#808000" stroke-width="0.8" opacity="0.6"/>
<path d="M61.36 127.66l9.6 -4.7v9.4zM62.11 127.68l9.6 -4.7v9.4zM62.85 127.69l9.6 -4.7v9.4zM63.60 127.70l9.6 -4.7v9.4zM64.34 127.71l9.6 -4.7v9.4zM65.09 127.72l9.6 -4.7v9.4zM65.83 127.73l9.6 -4.7v9.4zM66.58 127.74l9.6 -4.7v9.4zM67.33 127.75l9.6 -4.7v9.4zM68.07 127.76l9.6 -4.7v9.4zM68.82 127.77l9.6 -4.7v9.4zM69.56 127.79l9.6 -4.7v9.4zM70.31 127.80l9.6 -4.7v9.4zM71.05 127.81l9.6 -4.7v9.4zM71.80 127.82l9.6 -4.7v9.4zM72.54 127.83l9.6 -4.7v9.4zM73.29 127.84l9.6 -4.7v9.4zM74.03 127.85l9.6 -4.7v9.4zM74.78 127.86l9.6 -4.7v9.4zM75.52 127.87l9.6 -4.7v9.4zM76.27 127.89l9.6 -4.7v9.4zM77.02 127.90l9.6 -4.7v9.4zM77.76 127.91l9.6 -4.7v9.4zM78.51 127.92l9.6 -4.7v9.4zM79.25 127.93l9.6 -4.7v9.4zM80.00 127.94l9.6 -4.7v9.4zM80.74 127.95l9.6 -4.7v9.4zM81.49 127.96l9.6 -4.7v9.4zM82.23 127.97l9.6 -4.7v9.4zM82.98 127.99l9.6 -4.7v9.4zM83.72 128.00l9.6 -4.7v9.4zM84.47 128.01l9.6 -4.7v9.4zM85.21 128.02l9.6 -4.7v9.4zM85.96 128.03l9.6 -4.7v9.4zM86.70 128.04l9.6 -4.7v9.4zM87.45 128.05l9.6 -4.7v9.4zM88.20 128.06l9.6 -4.7v9.4zM88.94 128.07l9.6 -4.7v9.4zM89.69 128.08l9.6 -4.7v9.4zM90.43 128.10l9.6 -4.7v9.4zM91.18 128.11l9.6 -4.7v9.4zM91.92 128.12l9.6 -4.7v9.4zM92.67 128.13l9.6 -4.7v9.4zM93.41 128.14l9.6 -4.7v9.4zM94.16 128.15l9.6 -4.7v9.4zM94.90 128.16l9.6 -4.7v9.4zM95.65 128.17l9.6 -4.7v9.4zM96.39 128.18l9.6 -4.7v9.4zM97.14 128.20l9.6 -4.7v9.4zM97.88 128.21l9.6 -4.7v9.4zM98.63 128.22l9.6 -4.7v9.4zM99.38 128.23l9.6 -4.7v9.4zM100.12 128.24l9.6 -4.7v9.4zM100.87 128.25l9.6 -4.7v9.4zM101.61 128.26l9.6 -4.7v9.4zM102.36 128.27l9.6 -4.7v9.4zM103.10 128.28l9.6 -4.7v9.4zM103.85 128.29l9.6 -4.7v9.4zM104.59 128.31l9.6 -4.7v9.4zM105.34 128.32l9.6 -4.7v9.4zM106.08 128.33l9.6 -4.7v9.4zM106.83 128.34l9.6 -4.7v9.4zM107.57 128.35l9.6 -4.7v9.4zM108.32 128.36l9.6 -4.7v9.4zM109.07 128.37l9.6 -4.7v9.4zM109.81 128.38l9.6 -4.7v9.4zM110.56 128.39l9.6 -4.7v9.4zM111.30 128.41l9.6 -4.7v9.4zM112.05 128.42l9.6 -4.7v9.4zM112.79 128.43l9.6 -4.7v9.4zM113.54 128.44l9.6 -4.7v9.4zM114.28 128.45l9.6 -4.7v9.4zM115.03 128.46l9.6 -4.7v9.4zM115.77 128.47l9.6 -4.7v9.4zM116.52 128.48l9.6 -4.7v9.4zM117.26 128.49l9.6 -4.7v9.4zM118.01 128.50l9.6 -4.7v9.4zM118.75 128.52l9.6 -4.7v9.4zM119.50 128.53l9.6 -4.7v9.4zM120.25 128.54l9.6 -4.7v9.4zM120.99 128.55l9.6 -4.7v9.4zM121.74 128.56l9.6 -4.7v9.4zM122.48 128.57l9.6 -4.7v9.4zM123.23 128.58l9.6 -4.7v9.4zM123.97 128.59l9.6 -4.7v9.4zM124.72 128.60l9.6 -4.7v9.4zM125.46 128.62l9.6 -4.7v9.4zM126.21 128.63l9.6 -4.7v9.4zM126.95 128.64l9.6 -4.7v9.4zM127.70 128.65l9.6 -4.7v9.4zM128.44 128.66l9.6 -4.7v9.4zM129.19 128.67l9.6 -4.7v9.4zM129.93 128.68l9.6 -4.7v9.4zM130.68 128.68l9.6 -4.7v9.4zM131.43 128.69l9.6 -4.7v9.4zM132.17 128.69l9.6 -4.7v9.4zM132.92 128.69l9.6 -4.7v9.4zM133.66 128.70l9.6 -4.7v9.4zM134.41 128.70l9.6 -4.7v9.4zM135.15 128.70l9.6 -4.7v9.4zM135.90 128.71l9.6 -4.7v9.4zM136.64 128.71l9.6 -4.7v9.4zM137.39 128.71l9.6 -4.7v9.4zM138.13 128.71l9.6 -4.7v9.4zM138.88 128.72l9.6 -4.7v9.4zM139.62 128.72l9.6 -4.7v9.4zM140.37 128.72l9.6 -4.7v9.4zM141.12 128.73l9.6 -4.7v9.4zM141.86 128.73l9.6 -4.7v9.4zM142.61 128.73l9.6 -4.7v9.4zM143.35 128.73l9.6 -4.7v9.4zM144.10 128.74l9.6 -4.7v9.4zM144.84 128.74l9.6 -4.7v9.4zM145.59 128.74l9.6 -4.7v9.4zM146.33 128.75l9.6 -4.7v9.4zM147.08 128.75l9.6 -4.7v9.4zM147.82 128.75l9.6 -4.7v9.4zM148.57 128.75l9.6 -4.7v9.4zM149.31 128.76l9.6 -4.7v9.4zM150.06 128.76l9.6 -4.7v9.4zM150.80 128.76l9.6 -4.7v9.4zM151.55 128.77l9.6 -4.7v9.4zM152.30 128.77l9.6 -4.7v9.4zM153.04 128.77l9.6 -4.7v9.4zM153.79 128.78l9.6 -4.7v9.4zM154.53 128.78l9.6 -4.7v9.4zM155.28 128.78l9.6 -4.7v9.4zM156.02 128.78l9.6 -4.7v9.4zM156.77 128.79l9.6 -4.7v9.4zM157.51 128.79l9.6 -4.7v9.4zM158.26 128.79l9.6 -4.7v9.4zM159.00 128.80l9.6 -4.7v9.4zM159.75 128.80l9.6 -4.7v9.4zM160.49 128.80l9.6 -4.7v9.4zM161.24 128.80l9.6 -4.7v9.4zM161.99 128.81l9.6 -4.7v9.4zM162.73 128.81l9.6 -4.7v9.4zM163.48 128.81l9.6 -4.7v9.4zM164.22 128.82l9.6 -4.7v9.4zM164.97 128.82l9.6 -4.7v9.4zM165.71 128.82l9.6 -4.7v9.4zM166.46 128.82l9.6 -4.7v9.4zM167.20 128.83l9.6 -4.7v9.4zM167.95 128.83l9.6 -4.7v9.4zM168.69 128.83l9.6 -4.7v9.4zM169.44 128.84l9.6 -4.7v9.4zM170.18 128.84l9.6 -4.7v9.4zM170.93 128.84l9.6 -4.7v9.4zM171.67 128.84l9.6 -4.7v9.4zM172.42 128.85l9.6 -4.7v9.4zM173.17 128.85l9.6 -4.7v9.4zM173.91 128.85l9.6 -4.7v9.4zM174.66 128.86l9.6 -4.7v9.4zM175.40 128.86l9.6 -4.7v9.4zM176.15 128.86l9.6 -4.7v9.4zM176.89 128.87l9.6 -4.7v9.4zM177.64 128.87l9.6 -4.7v9.4zM178.38 128.87l9.6 -4.7v9.4zM179.13 128.87l9.6 -4.7v9.4zM179.87 128.88l9.6 -4.7v9.4zM180.62 128.88l9.6 -4.7v9.4zM181.36 128.88l9.6 -4.7v9.4zM182.11 128.89l9.6 -4.7v9.4zM182.85 128.89l9.6 -4.7v9.4zM183.60 128.89l9.6 -4.7v9.4zM184.35 128.89l9.6 -4.7v9.4zM185.09 128.90l9.6 -4.7v9.4zM185.84 128.90l9.6 -4.7v9.4zM186.58 128.90l9.6 -4.7v9.4zM187.33 128.91l9.6 -4.7v9.4zM188.07 128.91l9.6 -4.7v9.4zM188.82 128.91l9.6 -4.7v9.4zM189.56 128.91l9.6 -4.7v9.4zM190.31 128.92l9.6 -4.7v9.4zM191.05 128.92l9.6 -4.7v9.4zM191.80 128.92l9.6 -4.7v9.4zM192.54 128.93l9.6 -4.7v9.4zM193.29 128.93l9.6 -4.7v9.4zM194.04 128.93l9.6 -4.7v9.4zM194.78 128.93l9.6 -4.7v9.4zM195.53 128.94l9.6 -4.7v9.4zM196.27 128.94l9.6 -4.7v9.4zM197.02 128.94l9.6 -4.7v9.4zM197.76 128.95l9.6 -4.7v9.4zM198.51 128.95l9.6 -4.7v9.4zM199.25 128.95l9.6 -4.7v9.4zM200.00 128.96l9.6 -4.7v9.4zM200.74 128.96l9.6 -4.7v9.4zM201.49 128.96l9.6 -4.7v9.4zM202.23 128.96l9.6 -4.7v9.4zM202.98 128.97l9.6 -4.7v9.4zM203.72 128.97l9.6 -4.7v9.4zM204.47 128.97l9.6 -4.7v9.4zM211.92 128.87l9.6 -4.7v9.4zM219.38 128.77l9.6 -4.7v9.4zM226.83 128.67l9.6 -4.7v9.4zM234.28 128.57l9.6 -4.7v9.4zM241.74 128.46l9.6 -4.7v9.4zM249.19 128.36l9.6 -4.7v9.4zM256.64 128.26l9.6 -4.7v9.4zM264.10 128.16l9.6 -4.7v9.4zM271.55 128.06l9.6 -4.7v9.4zM279.00 127.95l9.6 -4.7v9.4zM286.46 127.84l9.6 -4.7v9.4zM293.91 127.72l9.6 -4.7v9.4zM301.37 127.61l9.6 -4.7v9.4zM308.82 127.49l9.6 -4.7v9.4zM316.27 127.37l9.6 -4.7v9.4zM323.73 127.26l9.6 -4.7v9.4zM331.18 127.14l9.6 -4.7v9.4zM338.63 127.02l9.6 -4.7v9.4zM346.09 126.91l9.6 -4.7v9.4zM353.54 126.79l9.6 -4.7v9.4zM368.45 126.68l9.6 -4.7v9.4zM383.35 126.56l9.6 -4.7v9.4zM398.26 126.44l9.6 -4.7v9.4zM413.17 126.33l9.6 -4.7v9.4zM428.07 126.21l9.6 -4.7v9.4zM442.98 126.09l9.6 -4.7v9.4zM457.89 125.98l9.6 -4.7v9.4zM472.80 125.86l9.6 -4.7v9.4zM487.70 125.74l9.6 -4.7v9.4zM502.61 125.63l9.6 -4.7v9.4z" fill="#808000"/>
<rect x="61.8" y="8.0" width="455.40000000000003" height="334.6" fill="none" stroke="#000" stroke-width="1.5"/>
<path d="M61.8 8.00h7M61.8 80.70h7M61.8 153.40h7M61.8 226.10h7M61.8 298.80h7M61.8 44.35h4M61.8 117.05h4M61.8 189.75h4M61.8 262.45h4M61.8 335.15h4M61.80 342.6v-7M136.33 342.6v-7M210.87 342.6v-7M285.40 342.6v-7M359.94 342.6v-7M434.47 342.6v-7M509.01 342.6v-7M99.07 342.6v-4M173.60 342.6v-4M248.14 342.6v-4M322.67 342.6v-4M397.21 342.6v-4M471.74 342.6v-4" stroke="#000" stroke-width="1.4" fill="none"/>
<text x="54" y="12.2" font-size="12.6" text-anchor="end" stroke="#000" stroke-width="0.3">2.5</text>
<text x="54" y="84.9" font-size="12.6" text-anchor="end" stroke="#000" stroke-width="0.3">2.0</text>
<text x="54" y="157.6" font-size="12.6" text-anchor="end" stroke="#000" stroke-width="0.3">1.5</text>
<text x="54" y="230.3" font-size="12.6" text-anchor="end" stroke="#000" stroke-width="0.3">1.0</text>
<text x="54" y="303.0" font-size="12.6" text-anchor="end" stroke="#000" stroke-width="0.3">0.5</text>
<text x="61.8" y="360.4" font-size="12.6" text-anchor="middle" stroke="#000" stroke-width="0.3">0</text>
<text x="136.3" y="360.4" font-size="12.6" text-anchor="middle" stroke="#000" stroke-width="0.3">50</text>
<text x="210.9" y="360.4" font-size="12.6" text-anchor="middle" stroke="#000" stroke-width="0.3">100</text>
<text x="285.4" y="360.4" font-size="12.6" text-anchor="middle" stroke="#000" stroke-width="0.3">150</text>
<text x="359.9" y="360.4" font-size="12.6" text-anchor="middle" stroke="#000" stroke-width="0.3">200</text>
<text x="434.5" y="360.4" font-size="12.6" text-anchor="middle" stroke="#000" stroke-width="0.3">250</text>
<text x="509.0" y="360.4" font-size="12.6" text-anchor="middle" stroke="#000" stroke-width="0.3">300</text>
<text x="290.2" y="385.9" font-size="16.7" text-anchor="middle" stroke="#000" stroke-width="0.3">Temperature (K)</text>
<text transform="translate(18.8 174.9) rotate(-90)" font-size="16.5" text-anchor="middle" stroke="#000" stroke-width="0.3">Resistivity (Ohm·cm·10<tspan font-size="9" dy="-9.8">-4</tspan><tspan dy="9.8">)</tspan></text>
<text x="-0.4" y="12.7" font-size="15.5" stroke="#000" stroke-width="0.3">(a)</text>
<path d="M249.6 37.5h30.6" stroke="#000000" stroke-width="0.8" opacity="0.75" fill="none"/>
<path d="M260.90 33.60h7.8v7.8h-7.8z" fill="#000000"/>
<text x="283.2" y="42.1" font-size="12.85" stroke="#000" stroke-width="0.3">ErNi<tspan font-size="8.8" dy="5.3">2</tspan></text>
<path d="M249.6 58.7h30.6" stroke="#ff0000" stroke-width="0.8" opacity="0.75" fill="none"/>
<path d="M260.30 58.70a4.5 4.5 0 1 0 9.0 0a4.5 4.5 0 1 0 -9.0 0z" fill="#ff0000"/>
<text x="283.2" y="63.3" font-size="12.85" stroke="#000" stroke-width="0.3">ErNi<tspan font-size="8.8" dy="5.3">2</tspan><tspan dy="-5.3">Mn</tspan><tspan font-size="8.4" dy="5.3">0.25</tspan></text>
<path d="M249.6 79.6h30.6" stroke="#0000ff" stroke-width="0.8" opacity="0.75" fill="none"/>
<path d="M264.80 73.65l5.1 8.9h-10.2z" fill="#0000ff"/>
<text x="283.2" y="84.2" font-size="12.85" stroke="#000" stroke-width="0.3">ErNi<tspan font-size="8.8" dy="5.3">2</tspan><tspan dy="-5.3">Mn</tspan><tspan font-size="8.4" dy="5.3">0.5</tspan></text>
<path d="M360.4 37.5h30.6" stroke="#00ffff" stroke-width="0.8" opacity="0.75" fill="none"/>
<path d="M375.60 43.45l5.1 -8.9h-10.2z" fill="#00ffff"/>
<text x="394.0" y="42.1" font-size="12.85" stroke="#000" stroke-width="0.3">ErNi<tspan font-size="8.8" dy="5.3">2</tspan><tspan dy="-5.3">Mn</tspan><tspan font-size="8.4" dy="5.3">0.75</tspan></text>
<path d="M360.4 58.7h30.6" stroke="#ff00ff" stroke-width="0.8" opacity="0.75" fill="none"/>
<path d="M375.60 53.40l5.3 5.3l-5.3 5.3l-5.3 -5.3z" fill="#ff00ff"/>
<text x="394.0" y="63.3" font-size="12.85" stroke="#000" stroke-width="0.3">ErNi<tspan font-size="8.8" dy="5.3">2</tspan><tspan dy="-5.3">Mn</tspan></text>
<path d="M360.4 79.6h30.6" stroke="#808000" stroke-width="0.8" opacity="0.75" fill="none"/>
<path d="M369.20 79.60l9.6 -4.7v9.4z" fill="#808000"/>
<text x="394.0" y="84.2" font-size="12.85" stroke="#000" stroke-width="0.3">ErNi<tspan font-size="8.8" dy="5.3">2</tspan><tspan dy="-5.3">Mn</tspan><tspan font-size="8.4" dy="5.3">1.25</tspan></text>
<line x1="101.93" y1="450.93" x2="174.37" y2="660.47" stroke="#444" stroke-width="1"/>
<line x1="180.88" y1="666.31" x2="247.02" y2="681.29" stroke="#444" stroke-width="1"/>
<line x1="256.88" y1="682.86" x2="322.62" y2="688.94" stroke="#444" stroke-width="1"/>
<line x1="332.42" y1="690.75" x2="398.58" y2="709.25" stroke="#444" stroke-width="1"/>
<line x1="408.39" y1="710.96" x2="474.21" y2="715.64" stroke="#444" stroke-width="1"/>
<path d="M96.40 442.30h7.8v7.8h-7.8zM172.10 661.30h7.8v7.8h-7.8zM248.00 678.50h7.8v7.8h-7.8zM323.70 685.50h7.8v7.8h-7.8zM399.50 706.70h7.8v7.8h-7.8zM475.30 712.10h7.8v7.8h-7.8z" fill="#000"/>
<rect x="61.8" y="416.4" width="455.40000000000003" height="335.0" fill="none" stroke="#000" stroke-width="1.5"/>
<path d="M61.8 450.00h7M61.8 516.90h7M61.8 583.80h7M61.8 650.70h7M61.8 717.60h7M61.8 483.45h4M61.8 550.35h4M61.8 617.25h4M61.8 684.15h4M100.30 751.4v-7M176.07 751.4v-7M251.85 751.4v-7M327.62 751.4v-7M403.40 751.4v-7M479.18 751.4v-7M138.19 751.4v-4M213.96 751.4v-4M289.74 751.4v-4M365.51 751.4v-4M441.29 751.4v-4" stroke="#000" stroke-width="1.4" fill="none"/>
<text x="54" y="454.2" font-size="12.6" text-anchor="end" stroke="#000" stroke-width="0.3">1.8</text>
<text x="54" y="521.1" font-size="12.6" text-anchor="end" stroke="#000" stroke-width="0.3">1.6</text>
<text x="54" y="588.0" font-size="12.6" text-anchor="end" stroke="#000" stroke-width="0.3">1.4</text>
<text x="54" y="654.9" font-size="12.6" text-anchor="end" stroke="#000" stroke-width="0.3">1.2</text>
<text x="54" y="721.8" font-size="12.6" text-anchor="end" stroke="#000" stroke-width="0.3">1.0</text>
<text x="100.3" y="769.4" font-size="13.3" text-anchor="middle" stroke="#000" stroke-width="0.3">0.00</text>
<text x="176.1" y="769.4" font-size="13.3" text-anchor="middle" stroke="#000" stroke-width="0.3">0.25</text>
<text x="251.9" y="769.4" font-size="13.3" text-anchor="middle" stroke="#000" stroke-width="0.3">0.50</text>
<text x="327.6" y="769.4" font-size="13.3" text-anchor="middle" stroke="#000" stroke-width="0.3">0.75</text>
<text x="403.4" y="769.4" font-size="13.3" text-anchor="middle" stroke="#000" stroke-width="0.3">1.00</text>
<text x="479.2" y="769.4" font-size="13.3" text-anchor="middle" stroke="#000" stroke-width="0.3">1.25</text>
<text x="288" y="794.6" font-size="16.5" text-anchor="middle" stroke="#000" stroke-width="0.3">Mn content, x</text>
<text transform="translate(17.4 583.4) rotate(-90)" font-size="16.6" text-anchor="middle" stroke="#000" stroke-width="0.3">R(300 K)/R(4.2 K)</text>
<text x="4.2" y="427.2" font-size="16" stroke="#000" stroke-width="0.3">(b)</text>
</svg>
</body></html>
